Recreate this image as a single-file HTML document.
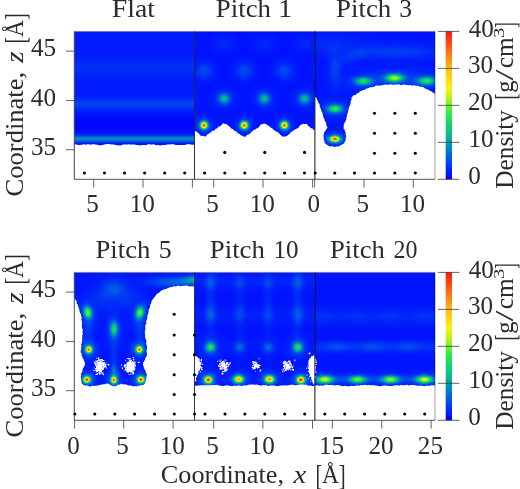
<!DOCTYPE html>
<html lang="en"><head><meta charset="utf-8"><title>Density maps</title>
<style>html,body{margin:0;padding:0;background:#fff}svg{display:block}</style></head>
<body>
<svg width="520" height="489" viewBox="0 0 520 489">
<rect width="520" height="489" fill="#fff"/>
<defs>
<filter id="cm" filterUnits="userSpaceOnUse" x="70" y="25" width="370" height="400" color-interpolation-filters="sRGB">
<feComponentTransfer>
<feFuncR type="table" tableValues="0.000 0.000 0.000 0.000 0.000 0.000 0.000 0.000 0.000 0.000 0.000 0.000 0.000 0.000 0.000 0.000 0.000 0.000 0.000 0.000 0.000 0.008 0.016 0.024 0.031 0.039 0.047 0.055 0.063 0.071 0.078 0.098 0.118 0.137 0.157 0.176 0.235 0.294 0.353 0.412 0.471 0.525 0.580 0.635 0.690 0.745 0.792 0.839 0.886 0.933 0.980 0.984 0.988 0.992 0.996 1.000 1.000 1.000 1.000 1.000 1.000 1.000 1.000 1.000 1.000 1.000 1.000 1.000 1.000 1.000 1.000 1.000 1.000 1.000 1.000 1.000 1.000 1.000 1.000 1.000 1.000"/>
<feFuncG type="table" tableValues="0.000 0.027 0.055 0.082 0.110 0.137 0.169 0.200 0.231 0.263 0.294 0.329 0.365 0.400 0.435 0.471 0.502 0.533 0.565 0.596 0.627 0.655 0.682 0.710 0.737 0.765 0.780 0.796 0.812 0.827 0.843 0.856 0.870 0.883 0.896 0.910 0.916 0.922 0.929 0.935 0.941 0.945 0.949 0.953 0.957 0.961 0.957 0.953 0.949 0.945 0.941 0.922 0.902 0.882 0.863 0.843 0.820 0.796 0.773 0.749 0.725 0.694 0.663 0.631 0.600 0.569 0.533 0.498 0.463 0.427 0.392 0.361 0.329 0.298 0.267 0.235 0.204 0.173 0.141 0.110 0.078"/>
<feFuncB type="table" tableValues="1.000 0.998 0.995 0.993 0.991 0.988 0.977 0.966 0.955 0.944 0.933 0.910 0.886 0.863 0.839 0.816 0.784 0.753 0.722 0.690 0.659 0.633 0.607 0.581 0.555 0.529 0.506 0.482 0.459 0.435 0.412 0.388 0.365 0.341 0.318 0.294 0.267 0.239 0.212 0.184 0.157 0.145 0.133 0.122 0.110 0.098 0.094 0.090 0.086 0.082 0.078 0.078 0.078 0.078 0.078 0.078 0.078 0.078 0.078 0.078 0.078 0.078 0.078 0.078 0.078 0.078 0.078 0.078 0.078 0.078 0.078 0.078 0.078 0.078 0.078 0.078 0.078 0.078 0.078 0.078 0.078"/>
</feComponentTransfer></filter>
<radialGradient id="g"><stop offset="0" stop-color="#fff" stop-opacity="1.000"/><stop offset="0.08" stop-color="#fff" stop-opacity="0.969"/><stop offset="0.17" stop-color="#fff" stop-opacity="0.882"/><stop offset="0.25" stop-color="#fff" stop-opacity="0.755"/><stop offset="0.33" stop-color="#fff" stop-opacity="0.607"/><stop offset="0.42" stop-color="#fff" stop-opacity="0.458"/><stop offset="0.5" stop-color="#fff" stop-opacity="0.325"/><stop offset="0.58" stop-color="#fff" stop-opacity="0.216"/><stop offset="0.67" stop-color="#fff" stop-opacity="0.135"/><stop offset="0.75" stop-color="#fff" stop-opacity="0.080"/><stop offset="0.83" stop-color="#fff" stop-opacity="0.044"/><stop offset="0.92" stop-color="#fff" stop-opacity="0.023"/><stop offset="1" stop-color="#fff" stop-opacity="0.000"/></radialGradient>
<linearGradient id="lv" x1="0" y1="0" x2="0" y2="1"><stop offset="0" stop-color="#fff" stop-opacity="0.000"/><stop offset="0.04" stop-color="#fff" stop-opacity="0.023"/><stop offset="0.08" stop-color="#fff" stop-opacity="0.044"/><stop offset="0.12" stop-color="#fff" stop-opacity="0.080"/><stop offset="0.17" stop-color="#fff" stop-opacity="0.135"/><stop offset="0.21" stop-color="#fff" stop-opacity="0.216"/><stop offset="0.25" stop-color="#fff" stop-opacity="0.325"/><stop offset="0.29" stop-color="#fff" stop-opacity="0.458"/><stop offset="0.33" stop-color="#fff" stop-opacity="0.607"/><stop offset="0.38" stop-color="#fff" stop-opacity="0.755"/><stop offset="0.42" stop-color="#fff" stop-opacity="0.882"/><stop offset="0.46" stop-color="#fff" stop-opacity="0.969"/><stop offset="0.5" stop-color="#fff" stop-opacity="1.000"/><stop offset="0.54" stop-color="#fff" stop-opacity="0.969"/><stop offset="0.58" stop-color="#fff" stop-opacity="0.882"/><stop offset="0.62" stop-color="#fff" stop-opacity="0.755"/><stop offset="0.67" stop-color="#fff" stop-opacity="0.607"/><stop offset="0.71" stop-color="#fff" stop-opacity="0.458"/><stop offset="0.75" stop-color="#fff" stop-opacity="0.325"/><stop offset="0.79" stop-color="#fff" stop-opacity="0.216"/><stop offset="0.83" stop-color="#fff" stop-opacity="0.135"/><stop offset="0.88" stop-color="#fff" stop-opacity="0.080"/><stop offset="0.92" stop-color="#fff" stop-opacity="0.044"/><stop offset="0.96" stop-color="#fff" stop-opacity="0.023"/><stop offset="1" stop-color="#fff" stop-opacity="0.000"/></linearGradient>
<linearGradient id="lh" x1="0" y1="0" x2="1" y2="0"><stop offset="0" stop-color="#fff" stop-opacity="0.000"/><stop offset="0.04" stop-color="#fff" stop-opacity="0.023"/><stop offset="0.08" stop-color="#fff" stop-opacity="0.044"/><stop offset="0.12" stop-color="#fff" stop-opacity="0.080"/><stop offset="0.17" stop-color="#fff" stop-opacity="0.135"/><stop offset="0.21" stop-color="#fff" stop-opacity="0.216"/><stop offset="0.25" stop-color="#fff" stop-opacity="0.325"/><stop offset="0.29" stop-color="#fff" stop-opacity="0.458"/><stop offset="0.33" stop-color="#fff" stop-opacity="0.607"/><stop offset="0.38" stop-color="#fff" stop-opacity="0.755"/><stop offset="0.42" stop-color="#fff" stop-opacity="0.882"/><stop offset="0.46" stop-color="#fff" stop-opacity="0.969"/><stop offset="0.5" stop-color="#fff" stop-opacity="1.000"/><stop offset="0.54" stop-color="#fff" stop-opacity="0.969"/><stop offset="0.58" stop-color="#fff" stop-opacity="0.882"/><stop offset="0.62" stop-color="#fff" stop-opacity="0.755"/><stop offset="0.67" stop-color="#fff" stop-opacity="0.607"/><stop offset="0.71" stop-color="#fff" stop-opacity="0.458"/><stop offset="0.75" stop-color="#fff" stop-opacity="0.325"/><stop offset="0.79" stop-color="#fff" stop-opacity="0.216"/><stop offset="0.83" stop-color="#fff" stop-opacity="0.135"/><stop offset="0.88" stop-color="#fff" stop-opacity="0.080"/><stop offset="0.92" stop-color="#fff" stop-opacity="0.044"/><stop offset="0.96" stop-color="#fff" stop-opacity="0.023"/><stop offset="1" stop-color="#fff" stop-opacity="0.000"/></linearGradient>
<clipPath id="c10"><rect x="74.3" y="31.4" width="120.2" height="147.9"/></clipPath>
<clipPath id="c20"><rect x="74.3" y="272.4" width="120.2" height="147.9"/></clipPath>
<clipPath id="c11"><rect x="194.5" y="31.4" width="120.4" height="147.9"/></clipPath>
<clipPath id="c21"><rect x="194.5" y="272.4" width="120.4" height="147.9"/></clipPath>
<clipPath id="c12"><rect x="314.9" y="31.4" width="120.1" height="147.9"/></clipPath>
<clipPath id="c22"><rect x="314.9" y="272.4" width="120.1" height="147.9"/></clipPath>
</defs>
<g filter="url(#cm)">
<linearGradient id="p1" gradientUnits="userSpaceOnUse" x1="0" y1="31.4" x2="0" y2="179.3"><stop offset="0.0000" stop-color="#0d0d0d"/><stop offset="0.0102" stop-color="#0d0d0d"/><stop offset="0.0204" stop-color="#0d0d0d"/><stop offset="0.0306" stop-color="#0d0d0d"/><stop offset="0.0408" stop-color="#0d0d0d"/><stop offset="0.0510" stop-color="#0d0d0d"/><stop offset="0.0612" stop-color="#0d0d0d"/><stop offset="0.0714" stop-color="#0d0d0d"/><stop offset="0.0816" stop-color="#0d0d0d"/><stop offset="0.0918" stop-color="#0d0d0d"/><stop offset="0.1020" stop-color="#0d0d0d"/><stop offset="0.1122" stop-color="#0d0d0d"/><stop offset="0.1224" stop-color="#0d0d0d"/><stop offset="0.1327" stop-color="#0d0d0d"/><stop offset="0.1429" stop-color="#0d0d0d"/><stop offset="0.1531" stop-color="#0d0d0d"/><stop offset="0.1633" stop-color="#0e0e0e"/><stop offset="0.1735" stop-color="#0e0e0e"/><stop offset="0.1837" stop-color="#0f0f0f"/><stop offset="0.1939" stop-color="#101010"/><stop offset="0.2041" stop-color="#111111"/><stop offset="0.2143" stop-color="#131313"/><stop offset="0.2245" stop-color="#141414"/><stop offset="0.2347" stop-color="#151515"/><stop offset="0.2449" stop-color="#151515"/><stop offset="0.2551" stop-color="#151515"/><stop offset="0.2653" stop-color="#141414"/><stop offset="0.2755" stop-color="#131313"/><stop offset="0.2857" stop-color="#121212"/><stop offset="0.2959" stop-color="#111111"/><stop offset="0.3061" stop-color="#101010"/><stop offset="0.3163" stop-color="#0f0f0f"/><stop offset="0.3265" stop-color="#0e0e0e"/><stop offset="0.3367" stop-color="#0d0d0d"/><stop offset="0.3469" stop-color="#0d0d0d"/><stop offset="0.3571" stop-color="#0d0d0d"/><stop offset="0.3673" stop-color="#0d0d0d"/><stop offset="0.3776" stop-color="#0d0d0d"/><stop offset="0.3878" stop-color="#0d0d0d"/><stop offset="0.3980" stop-color="#0d0d0d"/><stop offset="0.4082" stop-color="#0d0d0d"/><stop offset="0.4184" stop-color="#0d0d0d"/><stop offset="0.4286" stop-color="#0e0e0e"/><stop offset="0.4388" stop-color="#0f0f0f"/><stop offset="0.4490" stop-color="#111111"/><stop offset="0.4592" stop-color="#141414"/><stop offset="0.4694" stop-color="#171717"/><stop offset="0.4796" stop-color="#1a1a1a"/><stop offset="0.4898" stop-color="#1c1c1c"/><stop offset="0.5000" stop-color="#1c1c1c"/><stop offset="0.5102" stop-color="#191919"/><stop offset="0.5204" stop-color="#151515"/><stop offset="0.5306" stop-color="#111111"/><stop offset="0.5408" stop-color="#0e0e0e"/><stop offset="0.5510" stop-color="#0b0b0b"/><stop offset="0.5612" stop-color="#090909"/><stop offset="0.5714" stop-color="#070707"/><stop offset="0.5816" stop-color="#060606"/><stop offset="0.5918" stop-color="#050505"/><stop offset="0.6020" stop-color="#040404"/><stop offset="0.6122" stop-color="#030303"/><stop offset="0.6224" stop-color="#030303"/><stop offset="0.6327" stop-color="#030303"/><stop offset="0.6429" stop-color="#040404"/><stop offset="0.6531" stop-color="#040404"/><stop offset="0.6633" stop-color="#050505"/><stop offset="0.6735" stop-color="#060606"/><stop offset="0.6837" stop-color="#080808"/><stop offset="0.6939" stop-color="#0c0c0c"/><stop offset="0.7041" stop-color="#181818"/><stop offset="0.7143" stop-color="#2c2c2c"/><stop offset="0.7245" stop-color="#3b3b3b"/><stop offset="0.7347" stop-color="#343434"/><stop offset="0.7449" stop-color="#202020"/><stop offset="0.7551" stop-color="#0e0e0e"/><stop offset="0.7653" stop-color="#080808"/><stop offset="0.7755" stop-color="#0c0c0c"/><stop offset="0.7857" stop-color="#0d0d0d"/><stop offset="0.7959" stop-color="#0d0d0d"/><stop offset="0.8061" stop-color="#0d0d0d"/><stop offset="0.8163" stop-color="#0d0d0d"/><stop offset="0.8265" stop-color="#0d0d0d"/><stop offset="0.8367" stop-color="#0d0d0d"/><stop offset="0.8469" stop-color="#0d0d0d"/><stop offset="0.8571" stop-color="#0d0d0d"/><stop offset="0.8673" stop-color="#0d0d0d"/><stop offset="0.8776" stop-color="#0d0d0d"/><stop offset="0.8878" stop-color="#0d0d0d"/><stop offset="0.8980" stop-color="#0d0d0d"/><stop offset="0.9082" stop-color="#0d0d0d"/><stop offset="0.9184" stop-color="#0d0d0d"/><stop offset="0.9286" stop-color="#0d0d0d"/><stop offset="0.9388" stop-color="#0d0d0d"/><stop offset="0.9490" stop-color="#0d0d0d"/><stop offset="0.9592" stop-color="#0d0d0d"/><stop offset="0.9694" stop-color="#0d0d0d"/><stop offset="0.9796" stop-color="#0d0d0d"/><stop offset="0.9898" stop-color="#0d0d0d"/><stop offset="1.0000" stop-color="#0d0d0d"/></linearGradient>
<g clip-path="url(#c10)">
<rect x="74.3" y="31.4" width="120.2" height="147.9" fill="url(#p1)"/>
</g>
<g clip-path="url(#c11)">
<rect x="194.5" y="31.4" width="120.4" height="147.9" fill="#080808"/>
<ellipse cx="183.9" cy="44" rx="24" ry="18" fill="url(#g)" fill-opacity="0.041"/>
<ellipse cx="163.8" cy="71" rx="19.5" ry="18" fill="url(#g)" fill-opacity="0.093"/>
<ellipse cx="183.9" cy="98.6" rx="24.42" ry="22.44" fill="url(#g)" fill-opacity="0.053"/><ellipse cx="183.9" cy="98.6" rx="11.1" ry="10.2" fill="url(#g)" fill-opacity="0.240"/>
<ellipse cx="163.8" cy="125.3" rx="16.56" ry="16.56" fill="url(#g)" fill-opacity="0.109"/><ellipse cx="163.8" cy="125.3" rx="6.9" ry="6.9" fill="url(#g)" fill-opacity="0.910"/>
<ellipse cx="224.1" cy="44" rx="24" ry="18" fill="url(#g)" fill-opacity="0.041"/>
<ellipse cx="204" cy="71" rx="19.5" ry="18" fill="url(#g)" fill-opacity="0.093"/>
<ellipse cx="224.1" cy="98.6" rx="24.42" ry="22.44" fill="url(#g)" fill-opacity="0.053"/><ellipse cx="224.1" cy="98.6" rx="11.1" ry="10.2" fill="url(#g)" fill-opacity="0.240"/>
<ellipse cx="204" cy="125.3" rx="16.56" ry="16.56" fill="url(#g)" fill-opacity="0.109"/><ellipse cx="204" cy="125.3" rx="6.9" ry="6.9" fill="url(#g)" fill-opacity="0.910"/>
<ellipse cx="264.3" cy="44" rx="24" ry="18" fill="url(#g)" fill-opacity="0.041"/>
<ellipse cx="244.2" cy="71" rx="19.5" ry="18" fill="url(#g)" fill-opacity="0.093"/>
<ellipse cx="264.3" cy="98.6" rx="24.42" ry="22.44" fill="url(#g)" fill-opacity="0.053"/><ellipse cx="264.3" cy="98.6" rx="11.1" ry="10.2" fill="url(#g)" fill-opacity="0.240"/>
<ellipse cx="244.2" cy="125.3" rx="16.56" ry="16.56" fill="url(#g)" fill-opacity="0.109"/><ellipse cx="244.2" cy="125.3" rx="6.9" ry="6.9" fill="url(#g)" fill-opacity="0.910"/>
<ellipse cx="304.5" cy="44" rx="24" ry="18" fill="url(#g)" fill-opacity="0.041"/>
<ellipse cx="284.4" cy="71" rx="19.5" ry="18" fill="url(#g)" fill-opacity="0.093"/>
<ellipse cx="304.5" cy="98.6" rx="24.42" ry="22.44" fill="url(#g)" fill-opacity="0.053"/><ellipse cx="304.5" cy="98.6" rx="11.1" ry="10.2" fill="url(#g)" fill-opacity="0.240"/>
<ellipse cx="284.4" cy="125.3" rx="16.56" ry="16.56" fill="url(#g)" fill-opacity="0.109"/><ellipse cx="284.4" cy="125.3" rx="6.9" ry="6.9" fill="url(#g)" fill-opacity="0.910"/>
<ellipse cx="344.7" cy="44" rx="24" ry="18" fill="url(#g)" fill-opacity="0.041"/>
<ellipse cx="324.6" cy="71" rx="19.5" ry="18" fill="url(#g)" fill-opacity="0.093"/>
<ellipse cx="344.7" cy="98.6" rx="24.42" ry="22.44" fill="url(#g)" fill-opacity="0.053"/><ellipse cx="344.7" cy="98.6" rx="11.1" ry="10.2" fill="url(#g)" fill-opacity="0.240"/>
<ellipse cx="324.6" cy="125.3" rx="16.56" ry="16.56" fill="url(#g)" fill-opacity="0.109"/><ellipse cx="324.6" cy="125.3" rx="6.9" ry="6.9" fill="url(#g)" fill-opacity="0.910"/>
</g>
<g clip-path="url(#c12)">
<rect x="314.9" y="31.4" width="120.1" height="147.9" fill="#0a0a0a"/>
<ellipse cx="396" cy="52" rx="90" ry="15" fill="url(#g)" fill-opacity="0.070"/>
<ellipse cx="330" cy="44" rx="66" ry="21" fill="url(#g)" fill-opacity="0.039"/>
<ellipse cx="334.9" cy="70" rx="12.6" ry="36" fill="url(#g)" fill-opacity="0.075"/>
<ellipse transform="rotate(-24 353 57)" cx="353" cy="57" rx="33" ry="12" fill="url(#g)" fill-opacity="0.047"/>
<ellipse cx="363.3" cy="81.2" rx="37.44" ry="18" fill="url(#g)" fill-opacity="0.074"/><ellipse cx="363.3" cy="81.2" rx="15.6" ry="7.5" fill="url(#g)" fill-opacity="0.338"/>
<ellipse cx="394.6" cy="78" rx="38.88" ry="17.28" fill="url(#g)" fill-opacity="0.101"/><ellipse cx="394.6" cy="78" rx="16.2" ry="7.2" fill="url(#g)" fill-opacity="0.506"/>
<ellipse cx="426.6" cy="80.8" rx="38.88" ry="18" fill="url(#g)" fill-opacity="0.077"/><ellipse cx="426.6" cy="80.8" rx="16.2" ry="7.5" fill="url(#g)" fill-opacity="0.351"/>
<ellipse cx="334.9" cy="108.8" rx="31.74" ry="17.25" fill="url(#g)" fill-opacity="0.083"/><ellipse cx="334.9" cy="108.8" rx="13.8" ry="7.5" fill="url(#g)" fill-opacity="0.377"/>
<ellipse cx="334.9" cy="139" rx="21.39" ry="12.42" fill="url(#g)" fill-opacity="0.152"/><ellipse cx="334.9" cy="139" rx="9.3" ry="5.4" fill="url(#g)" fill-opacity="0.948"/>
</g>
<g clip-path="url(#c20)">
<rect x="74.3" y="272.4" width="120.2" height="147.9" fill="#0a0a0a"/>
<ellipse cx="114" cy="289.6" rx="27" ry="21" fill="url(#g)" fill-opacity="0.117"/>
<ellipse cx="172" cy="282" rx="48" ry="10.5" fill="url(#g)" fill-opacity="0.130"/>
<ellipse cx="197" cy="279.8" rx="27" ry="9" fill="url(#g)" fill-opacity="0.234"/>
<ellipse transform="rotate(40 101 300)" cx="101" cy="300" rx="30" ry="15" fill="url(#g)" fill-opacity="0.044"/>
<ellipse transform="rotate(-40 127 300)" cx="127" cy="300" rx="30" ry="15" fill="url(#g)" fill-opacity="0.044"/>
<ellipse cx="88.2" cy="330" rx="10.5" ry="36" fill="url(#g)" fill-opacity="0.055"/>
<ellipse cx="140" cy="330" rx="10.5" ry="36" fill="url(#g)" fill-opacity="0.055"/>
<ellipse cx="114" cy="352" rx="9" ry="48" fill="url(#g)" fill-opacity="0.047"/>
<ellipse transform="rotate(-14 87.9 312.5)" cx="87.9" cy="312.5" rx="17.28" ry="25.92" fill="url(#g)" fill-opacity="0.094"/><ellipse transform="rotate(-14 87.9 312.5)" cx="87.9" cy="312.5" rx="7.2" ry="10.8" fill="url(#g)" fill-opacity="0.429"/>
<ellipse transform="rotate(14 139.9 312.5)" cx="139.9" cy="312.5" rx="17.28" ry="25.92" fill="url(#g)" fill-opacity="0.094"/><ellipse transform="rotate(14 139.9 312.5)" cx="139.9" cy="312.5" rx="7.2" ry="10.8" fill="url(#g)" fill-opacity="0.429"/>
<ellipse cx="114" cy="328.9" rx="16.5" ry="31.68" fill="url(#g)" fill-opacity="0.062"/><ellipse cx="114" cy="328.9" rx="7.5" ry="14.4" fill="url(#g)" fill-opacity="0.312"/>
<ellipse cx="88.8" cy="349.5" rx="15.6" ry="16.38" fill="url(#g)" fill-opacity="0.143"/><ellipse cx="88.8" cy="349.5" rx="6" ry="6.3" fill="url(#g)" fill-opacity="0.896"/>
<ellipse cx="139.3" cy="349.5" rx="15.6" ry="16.38" fill="url(#g)" fill-opacity="0.143"/><ellipse cx="139.3" cy="349.5" rx="6" ry="6.3" fill="url(#g)" fill-opacity="0.896"/>
<ellipse cx="114" cy="371" rx="5.4" ry="15" fill="url(#g)" fill-opacity="0.130"/>
<ellipse cx="86.9" cy="379.6" rx="16.38" ry="14.82" fill="url(#g)" fill-opacity="0.160"/><ellipse cx="86.9" cy="379.6" rx="6.3" ry="5.7" fill="url(#g)" fill-opacity="1.000"/>
<ellipse cx="113.9" cy="379.9" rx="14.04" ry="16.38" fill="url(#g)" fill-opacity="0.148"/><ellipse cx="113.9" cy="379.9" rx="5.4" ry="6.3" fill="url(#g)" fill-opacity="0.922"/>
<ellipse cx="140.9" cy="379.6" rx="16.38" ry="14.82" fill="url(#g)" fill-opacity="0.160"/><ellipse cx="140.9" cy="379.6" rx="6.3" ry="5.7" fill="url(#g)" fill-opacity="1.000"/>
</g>
<g clip-path="url(#c21)">
<rect x="194.5" y="272.4" width="120.4" height="147.9" fill="#090909"/>
<ellipse cx="254.6" cy="282" rx="240" ry="15" fill="url(#g)" fill-opacity="0.031"/>
<ellipse cx="254.6" cy="315" rx="240" ry="18" fill="url(#g)" fill-opacity="0.023"/>
<ellipse cx="210.5" cy="300" rx="9" ry="90" fill="url(#g)" fill-opacity="0.049"/>
<ellipse cx="210.5" cy="282.5" rx="11.4" ry="13.5" fill="url(#g)" fill-opacity="0.067"/>
<ellipse cx="210.5" cy="314.5" rx="11.4" ry="16.5" fill="url(#g)" fill-opacity="0.073"/>
<ellipse cx="210.5" cy="347.2" rx="21.39" ry="21.39" fill="url(#g)" fill-opacity="0.075"/><ellipse cx="210.5" cy="347.2" rx="9.3" ry="9.3" fill="url(#g)" fill-opacity="0.339"/>
<ellipse cx="297.8" cy="300" rx="9" ry="90" fill="url(#g)" fill-opacity="0.049"/>
<ellipse cx="297.8" cy="282.5" rx="11.4" ry="13.5" fill="url(#g)" fill-opacity="0.067"/>
<ellipse cx="297.8" cy="314.5" rx="11.4" ry="16.5" fill="url(#g)" fill-opacity="0.073"/>
<ellipse cx="297.8" cy="347.2" rx="21.39" ry="21.39" fill="url(#g)" fill-opacity="0.075"/><ellipse cx="297.8" cy="347.2" rx="9.3" ry="9.3" fill="url(#g)" fill-opacity="0.339"/>
<ellipse cx="239.8" cy="305" rx="9" ry="84" fill="url(#g)" fill-opacity="0.034"/>
<ellipse cx="239.8" cy="282.5" rx="11.4" ry="13.5" fill="url(#g)" fill-opacity="0.041"/>
<ellipse cx="239.8" cy="314.5" rx="11.4" ry="16.5" fill="url(#g)" fill-opacity="0.041"/>
<ellipse cx="239.8" cy="347.2" rx="23.76" ry="21.12" fill="url(#g)" fill-opacity="0.024"/><ellipse cx="239.8" cy="347.2" rx="10.8" ry="9.6" fill="url(#g)" fill-opacity="0.119"/>
<ellipse cx="268.2" cy="305" rx="9" ry="84" fill="url(#g)" fill-opacity="0.034"/>
<ellipse cx="268.2" cy="282.5" rx="11.4" ry="13.5" fill="url(#g)" fill-opacity="0.041"/>
<ellipse cx="268.2" cy="314.5" rx="11.4" ry="16.5" fill="url(#g)" fill-opacity="0.041"/>
<ellipse cx="268.2" cy="347.2" rx="23.76" ry="21.12" fill="url(#g)" fill-opacity="0.024"/><ellipse cx="268.2" cy="347.2" rx="10.8" ry="9.6" fill="url(#g)" fill-opacity="0.119"/>
<ellipse cx="208.3" cy="379.8" rx="18" ry="15.75" fill="url(#g)" fill-opacity="0.160"/><ellipse cx="208.3" cy="379.8" rx="7.2" ry="6.3" fill="url(#g)" fill-opacity="1.000"/>
<ellipse cx="238.7" cy="379.2" rx="20.88" ry="15.84" fill="url(#g)" fill-opacity="0.127"/><ellipse cx="238.7" cy="379.2" rx="8.7" ry="6.6" fill="url(#g)" fill-opacity="0.793"/>
<ellipse cx="269.5" cy="379.2" rx="20.88" ry="15.84" fill="url(#g)" fill-opacity="0.131"/><ellipse cx="269.5" cy="379.2" rx="8.7" ry="6.6" fill="url(#g)" fill-opacity="0.819"/>
<ellipse cx="300.8" cy="379.8" rx="18" ry="15.75" fill="url(#g)" fill-opacity="0.160"/><ellipse cx="300.8" cy="379.8" rx="7.2" ry="6.3" fill="url(#g)" fill-opacity="1.000"/>
</g>
<linearGradient id="p6" gradientUnits="userSpaceOnUse" x1="0" y1="272.4" x2="0" y2="420.3"><stop offset="0.0000" stop-color="#090909"/><stop offset="0.0102" stop-color="#090909"/><stop offset="0.0204" stop-color="#090909"/><stop offset="0.0306" stop-color="#090909"/><stop offset="0.0408" stop-color="#090909"/><stop offset="0.0510" stop-color="#090909"/><stop offset="0.0612" stop-color="#090909"/><stop offset="0.0714" stop-color="#090909"/><stop offset="0.0816" stop-color="#090909"/><stop offset="0.0918" stop-color="#090909"/><stop offset="0.1020" stop-color="#090909"/><stop offset="0.1122" stop-color="#090909"/><stop offset="0.1224" stop-color="#090909"/><stop offset="0.1327" stop-color="#090909"/><stop offset="0.1429" stop-color="#090909"/><stop offset="0.1531" stop-color="#090909"/><stop offset="0.1633" stop-color="#090909"/><stop offset="0.1735" stop-color="#090909"/><stop offset="0.1837" stop-color="#090909"/><stop offset="0.1939" stop-color="#090909"/><stop offset="0.2041" stop-color="#0a0a0a"/><stop offset="0.2143" stop-color="#0a0a0a"/><stop offset="0.2245" stop-color="#0b0b0b"/><stop offset="0.2347" stop-color="#0b0b0b"/><stop offset="0.2449" stop-color="#0d0d0d"/><stop offset="0.2551" stop-color="#0e0e0e"/><stop offset="0.2653" stop-color="#0f0f0f"/><stop offset="0.2755" stop-color="#101010"/><stop offset="0.2857" stop-color="#111111"/><stop offset="0.2959" stop-color="#111111"/><stop offset="0.3061" stop-color="#111111"/><stop offset="0.3163" stop-color="#101010"/><stop offset="0.3265" stop-color="#0f0f0f"/><stop offset="0.3367" stop-color="#0e0e0e"/><stop offset="0.3469" stop-color="#0d0d0d"/><stop offset="0.3571" stop-color="#0c0c0c"/><stop offset="0.3673" stop-color="#0b0b0b"/><stop offset="0.3776" stop-color="#0a0a0a"/><stop offset="0.3878" stop-color="#0a0a0a"/><stop offset="0.3980" stop-color="#090909"/><stop offset="0.4082" stop-color="#090909"/><stop offset="0.4184" stop-color="#090909"/><stop offset="0.4286" stop-color="#090909"/><stop offset="0.4388" stop-color="#090909"/><stop offset="0.4490" stop-color="#0a0a0a"/><stop offset="0.4592" stop-color="#0c0c0c"/><stop offset="0.4694" stop-color="#0e0e0e"/><stop offset="0.4796" stop-color="#111111"/><stop offset="0.4898" stop-color="#141414"/><stop offset="0.5000" stop-color="#151515"/><stop offset="0.5102" stop-color="#151515"/><stop offset="0.5204" stop-color="#131313"/><stop offset="0.5306" stop-color="#101010"/><stop offset="0.5408" stop-color="#0d0d0d"/><stop offset="0.5510" stop-color="#0b0b0b"/><stop offset="0.5612" stop-color="#0a0a0a"/><stop offset="0.5714" stop-color="#090909"/><stop offset="0.5816" stop-color="#090909"/><stop offset="0.5918" stop-color="#090909"/><stop offset="0.6020" stop-color="#090909"/><stop offset="0.6122" stop-color="#090909"/><stop offset="0.6224" stop-color="#090909"/><stop offset="0.6327" stop-color="#090909"/><stop offset="0.6429" stop-color="#090909"/><stop offset="0.6531" stop-color="#090909"/><stop offset="0.6633" stop-color="#090909"/><stop offset="0.6735" stop-color="#090909"/><stop offset="0.6837" stop-color="#0a0a0a"/><stop offset="0.6939" stop-color="#0c0c0c"/><stop offset="0.7041" stop-color="#111111"/><stop offset="0.7143" stop-color="#171717"/><stop offset="0.7245" stop-color="#191919"/><stop offset="0.7347" stop-color="#161616"/><stop offset="0.7449" stop-color="#101010"/><stop offset="0.7551" stop-color="#0c0c0c"/><stop offset="0.7653" stop-color="#0a0a0a"/><stop offset="0.7755" stop-color="#090909"/><stop offset="0.7857" stop-color="#090909"/><stop offset="0.7959" stop-color="#090909"/><stop offset="0.8061" stop-color="#090909"/><stop offset="0.8163" stop-color="#090909"/><stop offset="0.8265" stop-color="#090909"/><stop offset="0.8367" stop-color="#090909"/><stop offset="0.8469" stop-color="#090909"/><stop offset="0.8571" stop-color="#090909"/><stop offset="0.8673" stop-color="#090909"/><stop offset="0.8776" stop-color="#090909"/><stop offset="0.8878" stop-color="#090909"/><stop offset="0.8980" stop-color="#090909"/><stop offset="0.9082" stop-color="#090909"/><stop offset="0.9184" stop-color="#090909"/><stop offset="0.9286" stop-color="#090909"/><stop offset="0.9388" stop-color="#090909"/><stop offset="0.9490" stop-color="#090909"/><stop offset="0.9592" stop-color="#090909"/><stop offset="0.9694" stop-color="#090909"/><stop offset="0.9796" stop-color="#090909"/><stop offset="0.9898" stop-color="#090909"/><stop offset="1.0000" stop-color="#090909"/></linearGradient>
<g clip-path="url(#c22)">
<rect x="314.9" y="272.4" width="120.1" height="147.9" fill="url(#p6)"/>
<ellipse cx="338" cy="346.8" rx="24" ry="9.6" fill="url(#g)" fill-opacity="0.054"/>
<ellipse cx="372.7" cy="346.8" rx="24" ry="9.6" fill="url(#g)" fill-opacity="0.054"/>
<ellipse cx="408" cy="346.8" rx="24" ry="9.6" fill="url(#g)" fill-opacity="0.054"/>
<ellipse cx="324.6" cy="316.4" rx="21" ry="13.5" fill="url(#g)" fill-opacity="0.019"/>
<ellipse cx="357.4" cy="316.4" rx="21" ry="13.5" fill="url(#g)" fill-opacity="0.019"/>
<ellipse cx="390.3" cy="316.4" rx="21" ry="13.5" fill="url(#g)" fill-opacity="0.019"/>
<ellipse cx="424.3" cy="316.4" rx="21" ry="13.5" fill="url(#g)" fill-opacity="0.019"/>
<ellipse cx="324.8" cy="379.5" rx="28.2" ry="13.2" fill="url(#g)" fill-opacity="0.106"/><ellipse cx="324.8" cy="379.5" rx="14.1" ry="6.6" fill="url(#g)" fill-opacity="0.528"/>
<ellipse cx="357.6" cy="379.5" rx="28.2" ry="13.2" fill="url(#g)" fill-opacity="0.083"/><ellipse cx="357.6" cy="379.5" rx="14.1" ry="6.6" fill="url(#g)" fill-opacity="0.417"/>
<ellipse cx="390.5" cy="379.5" rx="28.2" ry="13.2" fill="url(#g)" fill-opacity="0.092"/><ellipse cx="390.5" cy="379.5" rx="14.1" ry="6.6" fill="url(#g)" fill-opacity="0.458"/>
<ellipse cx="424.6" cy="379.5" rx="28.2" ry="13.2" fill="url(#g)" fill-opacity="0.106"/><ellipse cx="424.6" cy="379.5" rx="14.1" ry="6.6" fill="url(#g)" fill-opacity="0.528"/>
</g>
</g>
<g clip-path="url(#c10)"><path fill="#fff" d="M74.14 144.29L76.44 144.61L78.33 145.02L79.9 145.12L81.88 144.87L83.91 144.3L86.23 144.7L87.96 144.01L90.41 144.69L92.37 144.37L94.73 144.32L96.62 144.8L97.98 144.79L100.13 145.4L102.01 145.02L104.43 144.56L106.34 144.03L107.9 144L110.46 144.21L112.13 144.53L114.26 144.53L116.56 145.15L118.07 145.2L120.32 145.46L122.51 144.77L124.73 144.35L126.23 144.66L127.99 144.26L129.89 144.42L132.54 144.5L134.64 144.53L136.48 145.05L138.37 145.09L140.61 145.53L142.28 145.12L143.9 144.89L146.43 144.89L148.59 144.08L150.2 144.42L151.87 144.39L154 144.34L155.9 145.19L157.97 144.9L160.2 145.47L161.92 144.93L164.34 145.07L166.59 144.78L168.1 144.2L170.17 144.61L172.71 144.1L174.01 144.43L176.06 144.93L178.38 144.9L179.85 145.06L182.18 145.05L184.71 144.91L186.31 144.57L188.46 143.88L190.66 144.51L192.64 144.67L194.5 144.4L194.5 179.3L74.3 179.3Z"/></g>
<g clip-path="url(#c11)"><path fill="#fff" d="M194.39 130.3L195.1 131.2L196.06 131.35L197.21 132.22L198.34 132.93L199 133.87L200.1 134.88L201.03 136.07L202.61 135.85L203.25 136.31L204.36 136.09L205.85 136.69L206.47 135.68L207.09 134.62L208.34 133.99L209.83 133.04L210.02 133.01L211.53 131.43L212.54 130.59L213.53 130.88L214.86 129.96L215.26 128.97L216.17 128.67L217.53 127.9L218.33 126.53L219.81 126.45L220.85 125.47L221.82 124.7L222.23 123.96L223.36 123.18L224.03 123.4L225.26 124.05L226.96 124.29L227.94 125.5L228.96 125.66L229.22 126.36L230.2 127.17L231.62 128.65L232.84 128.94L233.65 129.93L234.08 130.44L235.91 131.21L236.75 131.61L237.18 132.68L238.33 133.51L239.97 133.95L240.4 135.31L241.72 135.25L242.13 135.77L243.9 136.74L244.15 136.81L245.98 136.43L246.35 135.86L247.13 134.68L248.97 134.54L249.53 133.98L250.43 133.09L251.83 131.64L252.25 131L253.24 130.62L254.26 129.81L255.13 129.65L256.35 128.5L257.58 128.19L258.42 127.39L259.5 126.16L260.52 124.83L261.44 124.27L262 124.33L263.17 123.66L264.73 123.66L265.33 123.81L266.56 124.51L267.11 124.92L268.25 125.41L269.77 126.47L270.56 127.56L271.91 128.04L272.61 128.83L273.51 129.69L274.45 130.18L275.48 131.24L276.7 131.86L277.94 132L278.56 133.49L279.84 133.52L280.12 134.65L281.07 135.18L282.07 136.2L283.78 136.79L284.15 136.71L285.66 135.98L286.88 136.39L287.22 135.76L288.4 134.54L289.99 134.05L290.16 132.81L291.52 131.92L292.2 131.16L293.72 130.18L294.55 129.96L295.02 129.2L296.62 128.7L297.06 128.43L298.79 127.61L299.1 126.06L300.04 125.75L301.27 124.35L302.42 124.54L303.82 123.49L304.15 124.02L305.57 123.94L306.09 123.68L307.69 124.65L308.07 125.91L309.63 126.6L310.08 127.49L311.07 128.3L312.45 128.52L313.55 129.8L314.27 129.65L315.5 130.66L315.9 179.3L194.5 179.3Z"/></g>
<g clip-path="url(#c12)"><path fill="#fff" d="M313.92 96.06L313.87 96.14L314.26 96.32L315.02 96.68L316.02 97.16L316.4 97.91L316.93 99.08L317.59 100.78L318.41 102.23L318.31 103.12L319.37 103.78L319.65 105.06L319.73 106.36L320 107.01L320.96 109.23L321.33 110.91L322.32 112.54L322.69 114.06L323 115.57L323.63 117.79L324.42 118.92L324.86 121.12L326.1 122.44L326 123.37L326.38 124.66L326.58 125.55L326.92 126.82L327.67 127.22L326.97 128.42L326.75 128.71L325.98 129.55L325.82 130.49L324.99 131.36L324.35 132.09L324.06 133.27L323.65 134.08L323.59 135.46L323.64 136.91L323.73 138.14L323.77 139.42L323.65 139.99L324.49 140.87L324.66 142.27L324.59 143.3L326.05 143.86L326.77 144.7L327.2 145.02L328.52 145.8L329.77 146.19L330.55 146.56L331.63 146.57L332.24 146.1L333.17 146.45L334.14 146.9L335.55 146.71L336.6 146.72L337.47 146.01L338.72 146.5L339.4 146.03L340.49 145.25L341.52 144.97L341.85 144.46L343.28 143.77L344.02 143.73L344.4 142.3L344.91 141.54L345.6 140.36L345.81 138.73L345.58 137.78L346.21 136.72L346.01 135.33L345.42 134.43L345.78 133.71L345.56 132.31L345.1 131.5L344.62 130.28L344.55 129.47L344.24 129.27L343.17 127.96L343.85 127.59L343.6 126.18L343.56 125.99L343.82 124.76L344.08 123.62L345.23 121.96L345.65 120.82L346.31 119.41L346.31 117.93L347.09 115.47L347.14 114.19L348.01 112.24L348.18 110.47L348.79 109.1L348.95 107.23L350.15 104.79L350.46 104.35L350.66 102.99L350.62 101.17L351.62 99.64L351.47 98.14L351.79 96.87L351.99 96.99L352.52 96.69L352.89 95.77L353.61 95.32L354.04 95.59L355.09 95.1L355.53 94.83L356.55 94.11L357.2 93.19L358.16 92.99L359.22 92.53L359.94 91.32L361.75 90.71L362.67 90.26L363.95 89.99L366.09 88.93L367.43 88.35L369.09 87.85L370.6 87.1L371.63 87.51L372.89 86.63L374.31 87.08L374.95 86.06L375.83 85.79L377.07 85.56L378.15 85.51L379.61 85.87L381 85.28L381.92 85.22L383.2 84.94L384.22 84.76L386.42 84.54L387.39 84.91L389.15 84.49L390.05 84.46L391.62 84.61L393.56 84.94L394.91 84.18L395.58 84.79L397.79 84.57L398.94 84.15L400.23 85L402.09 84.95L403.67 84.44L404.34 84.39L406.09 84.93L407.85 85.03L408.86 85.15L409.96 85.05L410.73 85.36L412.05 85.6L413.47 85.17L414.05 85.25L416.46 85.97L417.84 85.77L420.02 86.67L421.63 86.87L423.43 87.26L424.72 88.31L426.85 89.18L428.35 89.78L429.49 90.46L431.07 91.39L431.41 91.29L432.48 92.4L433.3 92.54L435.06 94.05L436 94.3L436 180.3L313.9 180.3Z"/></g>
<g clip-path="url(#c20)"><path fill="#fff" d="M73.05 296.58L73.53 297.45L74.36 297.97L75.08 299.32L75.44 299.77L76.42 300.83L76.78 301.7L76.72 303.14L77.26 304.36L77.91 304.85L78.15 306.43L79.08 308.51L79.18 309.83L79.52 311.32L79.74 311.46L79.92 312.76L80.93 314.19L81.21 316.25L81.71 317.57L81.29 320.08L82 321.23L82.09 323.52L81.99 325.45L81.96 327.14L82.14 328.46L82.83 329.26L82.89 330.33L82.41 331.88L82.9 333.48L82.19 335.38L82.38 337.56L82.01 338.81L82.4 340.18L81.72 342.45L81.84 343.19L81.02 344.47L81.66 345.76L81.37 347.36L80.9 347.79L81.41 349.11L80.78 350.22L80.86 350.82L80.64 352.23L81.59 353.11L81.8 353.57L81.43 355L82.43 356.46L82.31 356.87L82.75 358.14L83.59 358.91L83.91 360.46L84.44 361.52L84.72 362.17L84.78 363.3L85.25 364.22L84.4 366.12L83.83 366.89L82.87 368.77L82.4 370.57L82.35 371.94L81.42 372.44L80.98 374.11L81.32 375.32L80.74 376.5L81.01 377.86L81.1 379.06L81.06 379.4L81.33 380.47L81.27 381.4L81.71 382.03L81.61 382.79L81.91 384.02L82.79 384.11L83.3 385.22L84.31 384.96L85.75 385.68L87.32 385.46L88.44 386.3L90.49 386.48L91.59 385.91L92.68 385.74L94.48 386.02L95.6 385.68L96.7 385.59L97.33 385.7L99.14 384.91L99.93 385.19L100.69 384.78L102.48 384.33L103.97 384.43L105.41 383.8L105.73 383.69L107.19 383.45L107.83 383.53L109.34 384.22L109.75 384.47L111.14 385.59L112.48 385.76L113.2 386.58L114.64 386.04L115.83 386.17L117.13 385.21L118.42 384.5L120.03 384.65L120.53 383.76L121.64 383.69L121.76 384.33L123.04 384.34L124.22 384.54L125.81 384.19L127.21 384.97L128.74 385.53L129.22 385.51L130.47 385.6L131.26 385.6L133.52 386.38L135.11 386.01L136.77 386.39L137.25 385.59L138.93 386.25L139.53 385.31L141.74 385.3L143.16 385.11L144.1 384.18L144.73 383.62L144.84 383.46L145.56 382.07L145.35 381.41L145.96 380.45L145.89 379.29L146.64 378.77L146.15 377.35L146.83 375.78L146.84 374.78L146.46 374.09L146.25 372.79L145.76 371.96L145.43 370.94L145 369.65L144.03 368.71L143.85 367.26L143.61 366.68L143.06 365.11L143.07 364.1L142.93 363.52L143.2 362.66L143.94 361.4L144.42 360.42L144.94 359.96L145.26 358.18L145.8 357.26L146.68 355.73L146.92 355.05L146.98 353.21L146.55 351.48L146.79 349.51L147.09 346.87L146.86 345.79L146.03 343.7L146.38 342.08L146.22 340.79L145.87 339.23L145.4 338.38L145.02 336.1L145.21 334.4L144.76 332.46L144.9 331.28L145.46 329.36L145.18 327.33L145.39 325.12L146.01 323.96L146.38 323.13L146.3 322.41L146.05 321.49L146.72 319.93L147.07 318.79L147.46 318.02L147.11 317.13L147.43 315.52L147.95 314.32L148.29 313.43L148.39 313L148.62 311.66L148.66 310.02L148.69 309.17L149.5 308.44L149.99 307.02L150.25 304.67L151.34 302.82L151.43 301.55L152.25 300.07L153.13 298.9L154.28 297.28L155.18 296.34L155.67 295.64L156.77 293.88L157.69 293.35L159.49 292.59L160.24 291.3L161.16 290.87L163.06 289.87L164.64 289.23L166.52 288.8L167.62 288.31L169.29 287.41L170.61 286.9L171.3 287.15L172.37 286.75L174.31 286.18L174.84 286.44L176.32 286.31L177.85 285.77L178.65 285.76L179.68 286.21L181.61 285.97L182.13 286.05L184.02 285.67L185.29 285.69L186.11 285.4L187.47 285.44L188.92 286.18L190.55 286.39L191.87 285.99L192.85 286.27L194.17 286.46L195.5 286.6L195.5 421.3L73.3 421.3Z"/>
<path fill="#fff" d="M99.03 370.47h1v0.8h-1zM99.74 365.52h1v1h-1zM100.39 364.09h1v1h-1zM100.36 368.87h1.8v1h-1.8zM95.57 370.2h1.8v1.4h-1.8zM96.13 366.59h0.8v0.8h-0.8zM95.4 367.88h1.8v1h-1.8zM100.06 362.81h1.8v0.8h-1.8zM97.88 365.12h0.8v0.8h-0.8zM102.27 368.79h1v1h-1zM103.55 365.2h0.8v0.8h-0.8zM101.9 369.41h0.8v0.8h-0.8zM99.32 364.72h1.8v1h-1.8zM101.5 373.46h1.8v0.8h-1.8zM102.7 362.21h1.4v0.8h-1.4zM99.44 368.06h0.8v0.8h-0.8zM105.04 363.69h0.8v1h-0.8zM97.97 366.14h1v1h-1zM98.21 368.95h0.8v1h-0.8zM99.31 368.51h1v1h-1zM99.84 361.59h1.4v1h-1.4zM98.9 365.36h1.4v0.8h-1.4zM95.12 368.04h1v1.4h-1zM98.46 362.08h1v0.8h-1zM97.42 364.71h1.4v0.8h-1.4zM97.2 365.51h0.8v0.8h-0.8zM98.7 367.07h1v1.4h-1zM93.74 361.49h1.8v1h-1.8zM98 365.01h1v1h-1zM98.1 365.92h0.8v1.4h-0.8zM100.38 361.09h0.8v1h-0.8zM97.72 368.45h1.4v0.8h-1.4zM95.97 368.07h1v1h-1zM98.46 369.1h1.8v1.8h-1.8zM103.05 373.9h1v1.4h-1zM101.93 368.97h1.8v0.8h-1.8zM98.01 368.22h1v1.4h-1zM97.07 361.42h1v1.4h-1zM95.09 367.97h1.8v1h-1.8zM101.51 368.44h1v1.8h-1zM100.22 368.43h1.8v1h-1.8zM98.18 357.34h1v1.8h-1zM97.82 365.64h1v1h-1zM99.03 373.86h0.8v1h-0.8zM100.62 365.55h1.4v1h-1.4zM104.18 365.32h1v1.4h-1zM99.21 367.42h0.8v1h-0.8zM100.12 368.95h0.8v0.8h-0.8zM95.55 369.26h1v1.8h-1zM101.65 365.58h0.8v1h-0.8zM99.2 371.13h0.8v1h-0.8zM101.8 364.05h1.8v1.8h-1.8zM99.38 362.55h1v1.8h-1zM101.84 362.04h0.8v1.4h-0.8zM97.49 366.92h0.8v1.4h-0.8zM99.53 369.13h1v1h-1zM101.21 362.92h0.8v1.8h-0.8zM101.46 362.9h1v1h-1zM99.87 362.77h1.4v0.8h-1.4zM102.68 366.85h1v1h-1zM98.16 365.72h1.8v1.4h-1.8zM95.25 364.6h1.8v0.8h-1.8zM96.15 361.28h1.8v1h-1.8zM93.85 370.05h1v1h-1zM95.83 369.29h0.8v1.8h-0.8zM98.83 366.76h1v1.4h-1zM99.04 366.21h1.4v1.4h-1.4zM96.6 362.43h1.8v1h-1.8zM101.18 367.63h1.4v1.8h-1.4zM107.93 364.07h1.4v1.4h-1.4zM99.74 367.54h0.8v1h-0.8zM96 366.69h1v1h-1zM97.07 369.54h1.4v1.4h-1.4zM103.96 365.77h1v1.4h-1zM96.18 370.84h1v1.4h-1zM96.45 357.47h1v1.4h-1zM103.72 365.99h1v1h-1zM99.47 368.61h1.4v1.4h-1.4zM95.94 367.88h1v1h-1zM104.18 363.18h0.8v0.8h-0.8zM102.16 359.76h1v1.8h-1zM101.27 361.95h0.8v0.8h-0.8zM99.66 367.1h1v1h-1zM96.64 363.26h1v1h-1zM99.81 362.99h1v1h-1zM103.34 362.69h1v1.8h-1zM102.27 363.13h0.8v1.8h-0.8zM100.62 359.96h1v1.4h-1zM98.23 362.21h1.4v0.8h-1.4zM97.41 365.05h1v1h-1zM96 366.58h1.4v1.4h-1.4zM102.87 363.12h1v1.4h-1zM101.27 369.62h0.8v1h-0.8zM101.04 362.87h1.8v1.4h-1.8zM96.77 360.62h1v1.4h-1zM93.41 369.87h0.8v1h-0.8zM96.9 362.45h0.8v0.8h-0.8zM96.24 362.82h1v0.8h-1zM96.3 365.65h1v0.8h-1zM100.04 369.13h1v1h-1zM102.68 368.53h1v1.4h-1zM100.01 361.9h1v1h-1zM96.8 367.23h1.8v0.8h-1.8zM100.44 363.54h1.4v1.4h-1.4zM95.49 373.88h1.8v1h-1.8zM103.29 365.17h0.8v1h-0.8zM100.91 370.63h1v1.8h-1zM100.54 365.67h0.8v1.4h-0.8zM98.44 359.33h1.8v1.8h-1.8zM101.57 366.73h0.8v0.8h-0.8zM101.64 372.61h1.8v0.8h-1.8zM100.84 359.09h1.8v1.4h-1.8zM96.58 362.89h1.8v0.8h-1.8zM100.33 370.51h1.4v1h-1.4zM100.77 367.1h0.8v1.4h-0.8zM100.32 358.89h0.8v1h-0.8zM100.42 364.64h1v1.8h-1zM98.07 359.72h1v1.4h-1zM99.94 366.04h1.8v1.8h-1.8zM100.23 365.47h1.8v1.8h-1.8zM100.72 366.29h1.4v1.8h-1.4zM98.48 362.83h0.8v0.8h-0.8zM97.86 362.01h1v1.4h-1zM99.82 361.89h0.8v1.4h-0.8zM99.76 367.68h0.8v1.4h-0.8zM103.5 366.05h0.8v0.8h-0.8zM99.67 367.5h1.4v0.8h-1.4zM98.84 370h1.4v1h-1.4zM101.68 364.48h1v0.8h-1zM98.48 369.84h1.4v1.4h-1.4zM96.65 360.02h0.8v0.8h-0.8zM99.86 365.94h1.8v0.8h-1.8zM97.61 367.68h1.8v1h-1.8zM104.34 364.3h1.8v0.8h-1.8zM96.74 373.03h1.4v1.4h-1.4zM98.73 364.3h0.8v1h-0.8zM100.95 365.35h1.4v1.4h-1.4zM95.83 369.6h1v1.8h-1zM98.3 368.14h1.8v1.8h-1.8zM97.58 369.7h0.8v1h-0.8zM97.53 364.27h1.4v1h-1.4zM96.47 369.3h1.8v1h-1.8zM100.18 363.46h0.8v1h-0.8zM99.17 369.24h1.8v0.8h-1.8zM99.04 367.61h1.8v1h-1.8zM98.61 372.08h1.8v1.4h-1.8zM98.75 367.01h1.8v1.4h-1.8zM99.93 363.85h1v1h-1zM96.22 362.9h1.4v1h-1.4zM102.61 363.99h0.8v1.4h-0.8zM98.28 366.24h1v0.8h-1zM99.78 370.09h1v1.8h-1zM98.02 369.33h1v1h-1zM99.68 367.27h1v1h-1zM97.15 364.48h1.8v1h-1.8zM99.54 373.14h1.4v1h-1.4zM101.14 363.6h1.4v0.8h-1.4zM101.42 369.49h1v1h-1zM98.85 365.82h0.8v1h-0.8zM104.8 365.51h1.4v1.8h-1.4zM97.48 364.88h1v1.4h-1zM101.81 367.9h1.8v1.8h-1.8zM101.41 365.34h0.8v1h-0.8zM99.92 367.83h0.8v0.8h-0.8zM102.67 367.19h1.4v1.4h-1.4zM105 363.61h0.8v1.8h-0.8zM95.51 360.33h0.8v1h-0.8zM98.58 368.02h0.8v1.8h-0.8zM97.09 368.07h1v1h-1zM107.57 363.79h1v1h-1zM101.41 366.49h1v0.8h-1zM104.19 361.92h0.8v1h-0.8zM100.36 361h1.4v0.8h-1.4zM101.3 367.56h0.8v1h-0.8zM98.39 363.48h1.8v1.4h-1.8zM99.46 364.39h1v1h-1zM99.34 367.55h1.4v1.4h-1.4zM100.38 367.96h1v0.8h-1zM93.56 367.32h0.8v1h-0.8zM101.11 364.91h1.8v1h-1.8zM100.53 364.77h1.4v0.8h-1.4zM101.78 364.48h0.8v0.8h-0.8zM97.05 366.76h1v1.4h-1zM101.33 367.93h1v1h-1zM99.25 363.89h1.4v1.8h-1.4zM101.63 363.7h1v1h-1zM97.63 367.08h0.8v1h-0.8zM97.36 364.74h1v1h-1zM97.04 366.06h1.4v0.8h-1.4zM101.25 369.05h1v1.8h-1zM97.2 366.27h1v1h-1zM102.22 365.28h1v1h-1zM100.49 365.24h1v1.4h-1zM100.14 365.23h1v1h-1zM99.88 365.82h1.8v1h-1.8zM96.49 365.67h1.8v1h-1.8zM100.53 369.05h1.4v1h-1.4zM99.11 367.89h1v1.8h-1zM99.95 360.9h1v1.8h-1zM100.41 366.55h1.8v1.4h-1.8zM99.52 363.92h1v1.8h-1zM97.57 361.96h1v1.8h-1zM99.26 366.32h1.8v1.4h-1.8zM102.66 359.91h1.8v1h-1.8zM96.75 371.19h1.4v0.8h-1.4zM105.3 366.58h1.4v1h-1.4zM100.87 364.09h1v1.8h-1zM100.67 363.23h1v1h-1zM94.64 363.03h1v1.8h-1zM105.87 362.41h0.8v0.8h-0.8zM98.14 367.78h1v1.4h-1zM94.28 362.75h1v0.8h-1zM102.42 364.84h1.8v0.8h-1.8zM96.11 365.14h0.8v1h-0.8zM101.28 365.44h1v1h-1zM101.04 367.36h0.8v0.8h-0.8zM102.84 368.72h1v1h-1zM103.03 366.38h1.8v1.4h-1.8zM95.24 365.19h0.8v1h-0.8zM102.33 362.18h0.8v1h-0.8zM101.65 368.51h1.8v1h-1.8zM100.46 366.94h1v1.8h-1zM94.9 362.43h1v1.8h-1zM96.76 366.66h0.8v1.4h-0.8zM98.14 361.85h1.8v1.8h-1.8zM106.38 367.82h0.8v1h-0.8zM98.34 367.92h1v1.4h-1zM101.32 362.46h1v1.4h-1zM99.92 365.03h1.8v1h-1.8zM105.48 363.95h1v1.4h-1z"/>
<path fill="#fff" d="M128.79 365.28h0.8v1.8h-0.8zM129.92 368.32h1v1.8h-1zM128.06 363.7h1.4v1.4h-1.4zM130.06 358.28h0.8v0.8h-0.8zM132.78 366.68h1v1.8h-1zM128.5 369.66h0.8v1.8h-0.8zM130.11 366.66h0.8v1.4h-0.8zM129.06 366.6h0.8v1h-0.8zM128.06 367.28h0.8v1.8h-0.8zM134.88 363.87h1v0.8h-1zM125.74 366.53h1v1.4h-1zM130.02 366.89h1v1.4h-1zM127.09 364.5h0.8v1.8h-0.8zM128.31 369.13h1.8v1h-1.8zM127.94 363.96h1v1.4h-1zM130.79 363.99h1.4v1.4h-1.4zM129.28 364.97h1v1h-1zM130.27 369.43h1.8v1.4h-1.8zM131.51 365.92h1v1h-1zM126.06 364.4h1v1h-1zM127.69 370.98h1v1.8h-1zM133.99 368.34h1.4v0.8h-1.4zM123.91 365.05h1v0.8h-1zM120.94 364.44h1v1.4h-1zM127.69 368.25h1v1.8h-1zM127.33 364.05h1.8v0.8h-1.8zM128.69 360.44h1.4v1h-1.4zM129.92 360.8h1v1.4h-1zM129.17 365.48h1.8v1.8h-1.8zM131.01 367.87h1.8v1h-1.8zM124.89 368.46h1.8v1.8h-1.8zM133.04 369.72h1.4v1h-1.4zM128.62 363.07h1.4v1.8h-1.4zM126.5 364.63h1v0.8h-1zM130.21 359.64h1.4v1.4h-1.4zM127.38 366.4h1v1h-1zM126.59 366.92h1v0.8h-1zM130.05 363.12h1.8v1h-1.8zM130.76 365.15h1.4v0.8h-1.4zM131.05 366.09h1.4v1h-1.4zM133.08 363.05h1.8v1.8h-1.8zM132.26 365.66h1.8v1.4h-1.8zM127.05 367.63h1.8v1h-1.8zM128.63 365.83h0.8v1.8h-0.8zM129.36 368.96h1.8v1.4h-1.8zM125.31 359.79h1v1h-1zM132.04 364.88h1.4v1.8h-1.4zM131.9 363.18h1.8v0.8h-1.8zM130.13 368.16h0.8v1h-0.8zM127.7 365.58h1v1h-1zM132.52 356.9h1.4v1h-1.4zM124.09 364.81h1v1.8h-1zM131.18 363.65h0.8v1.8h-0.8zM126.99 363.9h0.8v1.4h-0.8zM129.2 365.72h1.8v0.8h-1.8zM131.36 364.1h0.8v1.8h-0.8zM129.66 365.78h1v1.4h-1zM129.42 361.59h1.8v1.8h-1.8zM132.53 365.62h1.4v1.8h-1.4zM130.14 366.99h1.8v0.8h-1.8zM130.06 365.93h1.8v1.4h-1.8zM130.65 361.75h0.8v0.8h-0.8zM127.58 361.84h1v1h-1zM128 367.25h1v0.8h-1zM133.16 359.69h0.8v1h-0.8zM130.35 369.88h0.8v0.8h-0.8zM129.51 368.86h0.8v1.4h-0.8zM130.88 366.49h1v0.8h-1zM130.94 369.28h1v1h-1zM134.42 365.95h1.4v1h-1.4zM127.21 366.9h1.4v0.8h-1.4zM129.12 368.88h1.8v1h-1.8zM126.67 367.37h1.4v0.8h-1.4zM129.54 363.4h1v1h-1zM127.91 367.3h1v1.4h-1zM127.76 365.1h1.8v1.4h-1.8zM126.99 369.68h0.8v1.4h-0.8zM130.15 363.05h1v1.4h-1zM129.8 368.14h1v1.4h-1zM132.89 366.73h1v1h-1zM129.07 367.39h1v1h-1zM124.44 364.13h1.8v1.4h-1.8zM124.3 366.87h1v1h-1zM127.73 367.35h1.4v1.4h-1.4zM126.55 362.64h1v1.4h-1zM127.06 365.63h1.4v1h-1.4zM137.87 361.7h1.8v1.4h-1.8zM126.8 364.1h1v1.4h-1zM127.55 364.31h0.8v1.8h-0.8zM133.43 369.1h1.4v0.8h-1.4zM127.08 362.24h1v0.8h-1zM128.12 366.57h1v1h-1zM127.28 369.96h0.8v0.8h-0.8zM126.63 364.55h1.8v1h-1.8zM130.51 370.47h0.8v1h-0.8zM127.81 371.42h1.4v1h-1.4zM125.78 370.56h1.4v1h-1.4zM130.55 364.93h1v1h-1zM129.49 365.26h1.4v1h-1.4zM131.73 365.7h0.8v1h-0.8zM128.45 368.16h1.8v1h-1.8zM128.82 364.81h0.8v1.8h-0.8zM129.94 367.51h1v1h-1zM128.44 366.32h1v1h-1zM127.22 364.79h1.4v1.8h-1.4zM128.91 369.12h1.8v1h-1.8zM130.21 365.09h1v0.8h-1zM131.53 362.7h0.8v1h-0.8zM128.69 364.9h1v1h-1zM129.42 362.8h0.8v1.4h-0.8zM128.08 362.69h1.8v1h-1.8zM128.77 367.06h1.4v1.4h-1.4zM132.75 363.62h1.4v1.8h-1.4zM132.94 367.36h1.4v1.8h-1.4zM131.67 361.14h1.4v1h-1.4zM133.05 367.05h1.8v1h-1.8zM129.74 367.4h1v1.8h-1zM128.55 373.92h1v1h-1zM128.32 366.86h1v1h-1zM131.77 369.49h1.4v1h-1.4zM128.92 365.37h1.4v1h-1.4zM131.31 364.53h1v1h-1zM130.12 364.53h1.8v1h-1.8zM126.51 370.79h1.8v1.4h-1.8zM129.11 363.76h1v1.8h-1zM134.12 364.91h1.4v1h-1.4zM130.68 367.44h1v1.4h-1zM129.26 366.79h1v1h-1zM130.37 370.4h1.4v0.8h-1.4zM130.55 368.65h1.8v1h-1.8zM128.15 369.66h0.8v0.8h-0.8zM121.6 367.46h1.4v0.8h-1.4zM128.96 362.83h1.8v1h-1.8zM131.43 368.04h1.4v1.4h-1.4zM130.25 369.42h0.8v1h-0.8zM132.4 363.47h1.8v1h-1.8zM128.38 364.64h0.8v0.8h-0.8zM129.79 359.65h1v1h-1zM130.51 369.9h1v0.8h-1zM130.1 359.81h1.8v1h-1.8zM126.17 368.88h1v1h-1zM129.18 367.42h1v1h-1zM129.05 366.63h1.8v1.4h-1.8zM134.38 361.38h1.4v1.4h-1.4zM127.42 365.71h1v1.8h-1zM128.04 365.06h1v1h-1zM131.48 369.18h1.4v0.8h-1.4zM134.22 364.88h1.4v1h-1.4zM129.52 368.73h0.8v1.8h-0.8zM131.92 361.26h1.4v1h-1.4zM128.18 370.31h1.8v1.4h-1.8zM129.75 364.97h0.8v1h-0.8zM130.33 364.61h1v0.8h-1zM125.74 367.14h1v1.8h-1zM129.38 366.97h1v1.8h-1zM122.03 367.8h1v1.4h-1zM132.65 364.64h0.8v1h-0.8zM127.25 364h1.8v1.4h-1.8zM131.96 364.63h1v1h-1zM131.2 362.75h0.8v1h-0.8zM129.76 370.87h0.8v1h-0.8zM127.61 363.09h1.8v1.4h-1.8zM127.72 367.53h1.4v1.4h-1.4zM128.87 367.99h1v1.8h-1zM129 363.44h1v0.8h-1zM130.54 370.1h1.4v1h-1.4zM127.18 364.94h1.8v0.8h-1.8zM128.47 358.72h1.8v0.8h-1.8zM131.43 361.82h1.4v1h-1.4zM131.23 362.64h0.8v1.8h-0.8zM133.07 369.31h1.4v1.8h-1.4zM132.25 372.85h1.8v1.4h-1.8zM129.23 363.99h1.8v0.8h-1.8zM128.31 366.26h0.8v0.8h-0.8zM127 358.07h1.4v1h-1.4zM130.06 366.89h0.8v1.8h-0.8zM130.81 365.55h0.8v1h-0.8zM131.2 370.31h1v0.8h-1zM129.63 364.24h1v1.8h-1zM128.47 357.94h1.4v0.8h-1.4zM130.02 362.97h1v1.8h-1zM127.29 369.55h0.8v1h-0.8zM128.95 367.8h1.4v0.8h-1.4zM130.87 362.11h0.8v0.8h-0.8zM127.95 365.79h1v1h-1zM132.66 371.69h1.4v1h-1.4zM127.26 364.42h1v1.4h-1zM131.46 365.95h1v1.4h-1zM123.51 365.63h0.8v0.8h-0.8zM131.06 371.08h1.8v1.4h-1.8zM132.9 358.71h1.4v1.4h-1.4zM129.89 373.69h1.8v0.8h-1.8zM126.88 368.71h1v1h-1zM128.32 365.19h1v1h-1zM128.65 362.86h1.4v1.4h-1.4zM131.17 364.63h1v1.8h-1zM127.07 365.94h1v1.4h-1zM131.64 362.63h1v1h-1zM128.69 368.23h1.8v1h-1.8zM126.81 368.97h1.8v1h-1.8zM129.71 365.66h1.8v0.8h-1.8zM132.24 361.73h1.8v0.8h-1.8zM127.57 367.67h1v1h-1zM128.04 363.23h1v1h-1zM125.17 365.45h1v1.8h-1zM128.48 362.88h1v1h-1zM132.51 361.97h1.8v1h-1.8zM132.87 362.11h1v1h-1zM129.21 365.99h1.4v1.4h-1.4zM125.7 367.09h1v1h-1zM127.71 364.78h1v1h-1zM128.5 361.69h1v0.8h-1zM132.14 363.69h0.8v1.8h-0.8zM130.54 369.5h1.4v1h-1.4zM133.06 364.8h0.8v1.4h-0.8zM128.29 367.5h1v1.8h-1zM130.6 365.98h1v1h-1zM128.46 363.55h1.4v1.4h-1.4zM130.13 369.84h1.8v0.8h-1.8zM130.44 370.62h1v1.8h-1zM130.01 366.08h1.8v1h-1.8zM128.95 365.38h1v1.8h-1zM128.71 365.27h1v0.8h-1zM129.56 368.47h0.8v1.4h-0.8zM125.63 368.4h1v1h-1zM131.61 366.87h0.8v0.8h-0.8zM127.29 363.64h1.4v1.8h-1.4zM123.83 370.18h0.8v0.8h-0.8zM132.1 363.83h1v0.8h-1zM125.34 368.26h1v1h-1z"/>
</g>
<g clip-path="url(#c21)"><path fill="#fff" d="M193.05 384.92L194.61 385.69L196.05 385.85L198.42 385.4L200.6 385.28L202.67 385.21L204.31 385.26L206.23 385.16L208.79 385.2L210.29 385.21L213.03 384.91L214.26 385.08L216.99 384.76L217.96 385.27L220.67 385.74L222.35 386.12L224.2 385.99L226.05 385.28L228.1 385.39L230.5 385.96L232.15 386.37L234.35 385.45L236.15 386.01L238.96 385.26L239.98 385.81L242.22 385.89L244.5 385.37L246.33 385.43L248.46 384.8L250.94 384.5L252.76 384.42L254.66 384.81L256.9 384.48L258.57 384.95L260.96 385.66L262.64 385L264.23 385.18L266.43 385.29L268.17 385.99L270.66 385.58L273.04 385.56L274.58 385.52L276.9 386.29L278.24 386.11L280.86 385.51L282.31 385.62L284.93 385.13L286.7 385.46L288.45 385.3L290.92 384.77L292.92 384.84L294.81 385.33L296.15 385.3L299.04 384.69L299.98 384.54L303.02 384.51L304.95 384.78L306.76 384.86L308.14 385.65L310.05 385.41L312.96 385.94L314.62 385.98L315.9 385.2L315.9 421.3L193.5 421.3Z"/>
<path fill="#fff" d="M192.85 355.63L194.32 356.37L193.84 356.24L194.78 356.31L195.3 355.98L197.19 356.74L197.66 356.92L197.76 357.5L198.32 358.18L199.27 358.81L199.83 360L199.36 360.53L200.24 362.11L200.3 361.95L201.36 363.72L201.12 363.68L200.34 364.48L200.08 364.98L200.51 366.31L200.34 367.04L199.31 368.26L199.91 368.78L199.4 369.65L199.61 370.58L198.86 370.6L197.95 371.39L198.55 372.17L197.42 373.08L196.8 374.81L196.34 375.2L197.4 375.66L196.78 376.84L196.16 377.69L195.88 379.67L196.66 380.76L195.37 381.27L195.32 381.83L195.07 381.85L195.06 381.79L194.21 383.27L193.5 383Z"/>
<path fill="#fff" d="M315.91 354.63L316.12 354.31L314.95 355.26L313.82 355.52L313.06 355.62L312.66 356.25L311.6 356.65L311.25 356.61L310.72 357.25L310.56 358.21L309.81 359.03L309.07 359.48L308.27 361.45L308.54 361.94L308.35 363.41L307.83 363.54L308.64 364.94L308.47 366.46L308.98 367.51L307.97 367.83L309.26 369.44L308.46 369.52L308.86 370.44L309.25 372.42L309.74 372.93L309.42 373.85L311.03 375.29L310.63 376.02L311.51 377.43L310.98 378.32L311.61 379.03L311.68 379.72L312.02 380.6L311.75 381.17L312.76 381.72L312.55 383.31L313.2 383.31L313.82 384.51L314.3 384.63L315.98 384.34L315.9 385Z"/>
<path fill="#fff" d="M195.17 368.46h1.8v1h-1.8zM200.51 361.8h1.4v1h-1.4zM200.91 366.82h1.4v1.4h-1.4zM196.04 358.85h1v1h-1zM196.22 368.64h1.8v1h-1.8zM201.48 363.85h1.8v1h-1.8zM199.12 366.1h0.8v0.8h-0.8zM198.07 360.9h1.8v1.4h-1.8zM194.13 365.19h0.8v0.8h-0.8zM196.33 362.42h1.4v1.4h-1.4zM196.25 367.42h0.8v1.4h-0.8zM197.22 366.36h0.8v1h-0.8zM197.89 360.75h0.8v1h-0.8zM195.09 362.61h1.4v0.8h-1.4zM200.95 369.37h1.8v0.8h-1.8zM198.62 366.08h1v1.8h-1zM194.78 367.22h1v1h-1zM197.4 365.15h1.4v1.8h-1.4zM199.17 368.31h0.8v1h-0.8zM197.5 367.47h0.8v1h-0.8zM199.44 364.76h1v0.8h-1zM197.47 367.97h1v1.8h-1zM195.04 370.37h0.8v1h-0.8zM196.79 372.94h1.4v1.8h-1.4zM197.95 367.82h0.8v1h-0.8zM196.3 364.07h1.4v1.4h-1.4zM197.75 362.76h1v1h-1zM195.28 366.78h0.8v1h-0.8zM198.67 365.08h1.8v1h-1.8zM199.24 365.65h1.4v1h-1.4zM198.38 367.74h1.8v1.8h-1.8zM193.96 367.76h1.4v1h-1.4zM198.45 364h1.4v0.8h-1.4zM201.42 367.53h0.8v1.8h-0.8zM197.7 365.01h1.8v1h-1.8zM195.31 365.07h1v1h-1zM196.97 364.47h1v1.8h-1zM198.65 366.11h0.8v0.8h-0.8zM195.73 368.15h1v1.4h-1zM197.59 362.76h0.8v1h-0.8zM201.31 367.07h1v1h-1zM200.27 359.69h1.8v1h-1.8zM197.49 368.02h1.8v1h-1.8zM199.87 371.14h1v1.4h-1zM199.58 364.4h1v1h-1zM198.38 370.2h0.8v1h-0.8zM195.17 366.5h1.4v1h-1.4zM197.62 363.13h1v0.8h-1zM197.32 362.59h1.8v1.8h-1.8zM199.87 367.16h0.8v1.4h-0.8zM201.05 359.06h1v1.4h-1zM197.71 368.51h1.8v1.8h-1.8zM198.05 362.19h1.4v1h-1.4zM198.34 357.9h1v1.8h-1zM198.41 364.51h1.8v0.8h-1.8zM199.62 364.21h1v1h-1zM199.54 366.17h1.4v1.4h-1.4zM198.05 371.92h1v0.8h-1zM198.36 361.56h0.8v1.8h-0.8zM195.13 366.94h0.8v1h-0.8z"/>
<path fill="#fff" d="M309.35 363.54h0.8v0.8h-0.8zM310.19 366.79h1v1.4h-1zM309.52 364.58h1v1h-1zM309.32 373.27h0.8v1h-0.8zM313.59 367.25h1.4v1h-1.4zM311.47 368.97h1v0.8h-1zM311.82 370.58h1.8v0.8h-1.8zM310.39 370.69h1.8v1.8h-1.8zM312.34 368.11h1v1h-1zM310 369.11h1v1h-1zM310.67 360.27h1v0.8h-1zM315.29 368.25h1.4v1.8h-1.4zM311.72 375.8h0.8v1h-0.8zM311.8 370.54h0.8v1.4h-0.8zM309.3 371.13h1v1.8h-1zM311.58 365.53h1.8v1h-1.8zM311.24 374.36h1.8v0.8h-1.8zM311.3 365.07h1v0.8h-1zM313.41 368.95h1v1h-1zM309.2 375.4h1.4v1.8h-1.4zM311.23 366.61h1.4v1.4h-1.4zM314.11 368.95h1v1.8h-1zM310.55 364.16h1v1h-1zM312.17 378.99h1v0.8h-1zM314.19 366.83h1.4v0.8h-1.4zM307.87 367.16h0.8v1.8h-0.8zM310.21 364.23h0.8v1h-0.8zM311.18 364.64h1v1.8h-1zM313.45 379.17h1.4v1h-1.4zM310.84 375.45h1v0.8h-1zM310.89 356.61h1.8v1h-1.8zM307.91 371.06h1.8v1h-1.8zM310.97 359.62h0.8v0.8h-0.8zM314.11 365.09h1v1h-1zM311.15 374.31h1.8v1h-1.8zM312.69 361.99h0.8v1.4h-0.8zM310.07 362.28h1v1.4h-1zM310.36 368.3h1v1.8h-1zM312.56 363.71h1v0.8h-1zM310.24 374.11h0.8v1.4h-0.8zM308.86 370.67h1.4v1h-1.4zM310.36 370.28h1v1.4h-1zM312.4 360.67h1v1h-1zM312.22 369.3h1.4v1.4h-1.4zM309.27 358.54h0.8v1h-0.8zM310.79 365.54h1v1.4h-1zM310.39 380.71h1v1h-1zM311.61 378.4h1.8v1.4h-1.8zM310.43 371.49h1.8v1.8h-1.8zM312.26 376.62h1v1.4h-1zM310.95 366.98h1v0.8h-1zM312.86 364.95h1v1h-1zM308.68 352.79h1.8v1.4h-1.8zM312.99 373.9h1v1.4h-1zM313.24 370.53h1.4v1h-1.4zM312.65 365.64h1.4v1.8h-1.4zM311.23 365.2h1.4v1.4h-1.4zM307.78 378.36h0.8v0.8h-0.8zM309.16 364.88h1.8v1h-1.8zM310.6 357.92h0.8v1h-0.8zM310.79 367.07h1v1h-1zM312.54 378.37h1.8v0.8h-1.8zM312.11 366.95h1.8v1h-1.8zM310.07 364.07h1.8v0.8h-1.8zM306.63 374.27h0.8v1.4h-0.8zM306.13 367.66h1v1h-1zM309.47 376.3h1.4v0.8h-1.4zM311.45 362.11h1v1h-1zM307.33 365.87h1v1h-1zM310.92 363.64h1v0.8h-1z"/>
<path fill="#fff" d="M217.21 360.97h1v1h-1zM222.16 371.05h1.4v1h-1.4zM218.74 360.42h1.4v0.8h-1.4zM221.91 362.5h1v1.4h-1zM223.66 361.84h0.8v1h-0.8zM226.02 363.18h1.8v1.4h-1.8zM220.07 361.18h1v0.8h-1zM225.33 368.98h1.4v1.8h-1.4zM224.39 362.56h0.8v1h-0.8zM219.81 367.9h1.4v1.8h-1.4zM224.73 359.75h0.8v1h-0.8zM222.53 365.14h1.8v1.8h-1.8zM221.74 368.7h1v1h-1zM228.07 364.26h1.8v0.8h-1.8zM222.99 360.63h1.4v0.8h-1.4zM224.26 364.26h1v0.8h-1zM223.29 362.13h1v1.4h-1zM219.37 368.28h1v1h-1zM222.57 363.43h1.8v1.4h-1.8zM220.29 359.54h1v1h-1zM222.41 365.91h1.4v0.8h-1.4zM218.01 364.92h1v1.8h-1zM221.32 365.83h1v1h-1zM225.07 368.52h1v1.8h-1zM224.34 366.67h0.8v1.4h-0.8zM223.86 363.94h1.4v1.8h-1.4zM226.04 362.22h1.8v1.8h-1.8zM223.8 362.93h1v1h-1zM222.04 367.55h1.8v0.8h-1.8zM220.43 368.47h0.8v0.8h-0.8zM224.07 362.82h0.8v1.4h-0.8zM221.96 363.85h1v1.8h-1zM225.43 366.14h1.8v1.8h-1.8zM223.15 364.23h1.4v0.8h-1.4zM220.82 365.25h1v1h-1zM221.12 364.6h1.8v1h-1.8zM221.56 372.68h1.8v1.8h-1.8zM222.49 363h1v0.8h-1zM223.64 362.87h1v0.8h-1zM224.82 364.35h0.8v1.8h-0.8zM224.79 366.87h1.8v1.4h-1.8zM223.65 370.77h0.8v1h-0.8zM225.07 364.38h1v0.8h-1zM220.84 362.05h1.4v1.4h-1.4zM227.96 363.85h1.8v1.4h-1.8zM224.16 368.74h0.8v1.4h-0.8zM225.04 369.22h0.8v1.8h-0.8zM227.21 365.52h1v1h-1zM224.17 369.64h1v0.8h-1zM226.41 362.76h0.8v0.8h-0.8zM221.32 367.4h1.8v1h-1.8zM219.62 363.55h1.8v1h-1.8zM225.03 364.87h0.8v1h-0.8zM221.96 362.17h0.8v1.4h-0.8zM223.23 362.37h1v1h-1zM223.38 361.77h0.8v1h-0.8zM223.69 361.83h1v0.8h-1zM221.03 364.61h1.4v1h-1.4zM220.68 368.37h1v1h-1zM229.51 362.26h1.4v1.4h-1.4zM225.73 370.23h1.4v1h-1.4zM223.68 366.08h1.8v1.8h-1.8zM222.65 365.27h0.8v1.4h-0.8zM223.22 363.08h1.8v1.8h-1.8zM227.14 362.05h1v1.8h-1zM220.31 363.82h1v0.8h-1zM223.12 371.3h1.4v0.8h-1.4zM227.08 368.43h1v1.4h-1zM219.71 366.04h1.4v0.8h-1.4zM219.3 363.03h1.4v1h-1.4zM219.87 367.54h1v1.4h-1zM221.89 361.94h1v0.8h-1zM225.74 362.88h0.8v1h-0.8zM224.52 359.21h0.8v1.4h-0.8zM219.12 363.07h1v0.8h-1zM223.15 371.33h1v0.8h-1zM223.67 365.22h1v1h-1zM223.02 364.14h1.8v1.8h-1.8zM224.61 363.9h1v1.4h-1zM227.08 365.56h0.8v0.8h-0.8zM224.65 369.85h1v1.8h-1zM221.72 364.9h1.4v0.8h-1.4zM223.45 365.31h0.8v1.8h-0.8zM219.71 363.49h1.8v0.8h-1.8zM221.89 360.89h1.8v1h-1.8zM219.31 366.15h1.8v1h-1.8zM227.55 365.82h1.4v1h-1.4zM225.51 367.92h1v1.4h-1zM226.32 364.58h0.8v1.8h-0.8zM219.17 364.46h0.8v1h-0.8zM225.75 360.44h0.8v0.8h-0.8zM221.47 366.82h1v1h-1zM219.63 365.14h1v1h-1zM223.89 365.05h0.8v1.8h-0.8zM223.45 367.79h1.4v1.8h-1.4z"/>
<path fill="#fff" d="M253.45 364.49h0.8v0.8h-0.8zM256.62 361.78h0.8v1h-0.8zM256.17 363.07h0.8v1h-0.8zM253.45 363.83h1v1h-1zM254.77 367.5h1v0.8h-1zM254.36 366.34h1.4v1h-1.4zM257.98 364.85h1.4v1.8h-1.4zM258.47 358.16h1v1h-1zM254.92 364.9h1.8v0.8h-1.8zM253.31 368.04h1v1h-1zM258.58 365.35h1v1h-1zM255.55 362.22h0.8v0.8h-0.8zM255.67 363.29h1v1h-1zM255.83 365.82h1.4v1h-1.4zM254.97 366.14h1.8v1h-1.8zM256.88 364.29h1.8v0.8h-1.8zM253.88 363.84h0.8v1h-0.8zM253.8 365.85h1v1.8h-1zM251.7 366.8h1v1.4h-1zM254.82 367.3h0.8v0.8h-0.8zM254.26 363.64h1v1.8h-1zM257.88 364.47h1.8v1h-1.8zM253.15 362.38h1.4v1h-1.4zM257.94 367.28h1.8v0.8h-1.8zM255.58 365.76h1.8v0.8h-1.8zM254.25 361.6h1.8v1h-1.8zM256.91 363.94h0.8v1h-0.8zM254.06 367.82h1v1.4h-1zM259.3 364.94h1.4v1h-1.4zM254.14 366.89h1.4v1h-1.4zM255.98 366.4h1v1h-1zM254.75 365.66h1v0.8h-1zM255.87 364.44h1.8v1h-1.8zM254.06 363.91h1v1.4h-1zM259.94 369.54h1.4v1h-1.4zM253.15 362.54h1v0.8h-1zM255.15 365.48h1v1h-1zM252.49 368.45h1v1h-1zM255.2 363.38h1v1h-1zM253.74 365.12h1v1h-1zM254.33 367.78h0.8v1h-0.8zM252.07 360.94h1.4v1h-1.4zM255.07 370.79h1v0.8h-1zM257.89 366.5h1v1h-1zM254.31 368.18h1.4v0.8h-1.4zM256.96 367.41h1.4v0.8h-1.4zM252.71 366.99h1v1h-1zM254.1 365.71h1v0.8h-1zM254.56 368.1h1v1h-1zM254 364.96h1v1.4h-1zM254.7 361.96h1.4v0.8h-1.4zM256.98 366.32h0.8v1h-0.8zM252.19 364.88h1v1h-1zM256.81 367.06h1.4v1.4h-1.4zM255.06 363.95h1.4v1h-1.4zM256.26 366.52h1v0.8h-1zM259.43 370.42h1.4v1h-1.4zM254.94 365.65h1.8v0.8h-1.8zM252.72 362.19h0.8v1.8h-0.8zM252.54 361.71h1.8v1h-1.8zM254.08 364.12h1v0.8h-1zM256.12 363.36h1v1h-1zM257.22 365.58h0.8v1.4h-0.8zM254.92 365.99h1.4v1h-1.4zM255.8 363.42h1v1.8h-1z"/>
<path fill="#fff" d="M286.99 366.02h0.8v1h-0.8zM292.77 365.56h1v0.8h-1zM283.74 365.5h1.4v1h-1.4zM285.44 363.6h1.4v1h-1.4zM285.09 369.72h1v1h-1zM290.85 364.24h0.8v1.4h-0.8zM287.84 367.69h0.8v1.8h-0.8zM285.66 366.23h0.8v1h-0.8zM285.19 363.6h1.4v1.4h-1.4zM283.05 363.27h1v1h-1zM286.78 366.47h1.4v1h-1.4zM294.31 359.42h1v1.8h-1zM284.89 369.37h1v1h-1zM285.8 365.55h1.4v1.4h-1.4zM286.64 368.77h1v1h-1zM288.61 364.39h1.4v0.8h-1.4zM291.96 367.05h0.8v0.8h-0.8zM287.49 364.37h1v1h-1zM284.01 366.71h1v1.8h-1zM284.34 363.43h1.4v1.8h-1.4zM282.85 362.31h1.8v1.8h-1.8zM287.05 366.08h1v1.8h-1zM283.05 368.88h1v1h-1zM281.38 368.81h1v0.8h-1zM286.44 364.05h1.4v1h-1.4zM284.59 360.41h0.8v1.4h-0.8zM282.98 365.67h1v1.4h-1zM290.94 363.69h1v1.4h-1zM292.34 369.09h1.8v1.4h-1.8zM285.61 365.91h1v1h-1zM286.48 362.27h1.4v1h-1.4zM287.93 366.48h1v1h-1zM288.96 367.26h1.4v1.8h-1.4zM285.82 365.56h1.8v1.4h-1.8zM289.77 363.65h1v1h-1zM285.94 362.02h1v1.4h-1zM285.39 360.92h1v1.4h-1zM282.32 370.43h1v1.8h-1zM284.47 361.8h1.8v1h-1.8zM283.38 369.14h1v1h-1zM288.17 361.46h1.8v0.8h-1.8zM286.84 365.48h1.8v1.4h-1.8zM286.4 362.71h0.8v0.8h-0.8zM287.25 363.95h1v0.8h-1zM287.42 366.59h1v0.8h-1zM287.73 365.18h0.8v1h-0.8zM288.04 367.11h1.8v1h-1.8zM285.59 367.73h1.4v1h-1.4zM283.85 370.76h1v1h-1zM286.61 366.04h0.8v1h-0.8zM290.1 369.3h1v1h-1zM285.32 364.98h1.8v1.8h-1.8zM288.12 360.45h1.4v1.4h-1.4zM286.57 365.51h1v0.8h-1zM287.06 363.78h1.8v1h-1.8zM288.11 369.24h1.4v1h-1.4zM283.35 361.23h1.4v1.8h-1.4zM286.33 365.19h1.8v1h-1.8zM289.46 367.58h1v1h-1zM283.66 364.97h1v0.8h-1zM290.64 365.9h1v1.8h-1zM285.79 369.01h1.4v1.8h-1.4zM287.26 366.73h1v1h-1zM287.31 365.76h1.4v1h-1.4zM288.55 360.93h1v1.4h-1zM285.1 369.25h0.8v1.8h-0.8zM285.87 367.22h1v1.8h-1zM286.83 366.79h1v1.4h-1zM288.86 365.48h1.8v1.8h-1.8zM289.3 361.78h1.4v1.8h-1.4zM286.33 366.06h0.8v1.8h-0.8zM284.52 367.17h1v1.8h-1zM287.08 367.5h1.4v1.4h-1.4zM287.01 362.23h1.4v1h-1.4zM285.84 364.07h1.4v0.8h-1.4zM285.38 363.22h0.8v1.8h-0.8zM288.63 367.35h1.8v0.8h-1.8zM286.41 366.04h1v1.4h-1zM285.31 364.8h0.8v0.8h-0.8zM292.07 366.27h1v1.8h-1zM287.45 365.69h1v1.8h-1zM284.67 363.2h1v1h-1zM283.26 368.43h1v1h-1zM288.03 366.51h1.8v0.8h-1.8zM291.72 368.78h1.4v1.4h-1.4zM286.94 366.83h1v1.4h-1zM285.39 366.21h1v1h-1zM289.21 363.29h1.8v1h-1.8zM286.89 364.35h1.8v1.4h-1.8zM288.21 360.89h1.8v1h-1.8zM285.13 369.32h1v1h-1zM286.24 364.17h0.8v1h-0.8zM286.38 364.81h1v1.8h-1zM287.37 365.2h1v1h-1zM289.38 360.63h1v1h-1z"/>
</g>
<g clip-path="url(#c22)"><path fill="#fff" d="M313.72 385.61L315.3 385.42L317.3 385.28L319.06 385.83L321.14 385.53L323.27 385.63L325.03 384.83L327.25 384.85L328.59 384.93L330.9 384.95L332.84 384.98L334.67 385.42L337.05 384.94L339.26 385.18L340.74 385.85L343.22 386.14L345.24 385.86L347.27 386.15L349.21 386.33L351.3 385.85L352.87 386.03L355.2 385.91L356.77 385.19L358.56 385.8L361.26 384.9L362.78 385.32L364.9 384.74L367.22 385.23L368.73 385.09L370.79 385.28L373.25 385.32L374.74 385.22L377.2 385.71L378.77 386L380.99 386.19L383.26 385.44L384.85 385.45L387.31 385.65L388.64 385.9L391.28 385.94L393.23 385.83L394.96 385.53L396.96 385L398.57 385.75L400.62 385.01L402.91 385.35L404.54 385.37L406.99 384.72L408.78 385.57L411.11 384.96L413.02 385L414.83 385.36L417.34 385.66L419.33 385.75L421.13 385.4L423.23 385.99L424.79 386.2L427.26 385.56L428.47 385.91L431.24 385.32L432.96 385.14L434.05 385.58L436 385.6L436 421.3L313.9 421.3Z"/>
<path fill="#fff" d="M315.39 360.33h1v1.8h-1zM314.32 366.68h1v1h-1zM314.91 370.41h0.8v1.4h-0.8zM315.1 371.76h1.8v1h-1.8zM314.64 369.47h1.4v0.8h-1.4zM314.64 366.29h1v1h-1zM314.6 362.32h1v1h-1zM314.29 365.68h1.8v1h-1.8zM314.88 364.1h1.8v0.8h-1.8zM314.6 358.11h1v1h-1zM314.87 361.49h1.8v0.8h-1.8zM314.57 366.02h0.8v0.8h-0.8zM315.11 362.16h1.4v1h-1.4zM314.47 368.78h1v1.8h-1zM314.16 373.31h1v1h-1zM314.74 375.99h1v1.8h-1zM314.2 367.69h1v1.4h-1zM314.88 367.67h1v0.8h-1zM314.28 365.91h1.4v1.4h-1.4zM314.68 359.35h1.4v1h-1.4zM314.27 366.59h1.8v1.8h-1.8zM314.79 368.4h0.8v1h-0.8zM314.21 353.55h1.4v0.8h-1.4zM314.28 370.18h1v1.4h-1zM314.26 361.57h1.8v1.8h-1.8z"/>
</g>
<defs><linearGradient id="cb" x1="0" y1="0" x2="0" y2="1"><stop offset="0" stop-color="rgb(255,20,20)"/><stop offset="0.06" stop-color="rgb(255,60,20)"/><stop offset="0.12" stop-color="rgb(255,100,20)"/><stop offset="0.19" stop-color="rgb(255,145,20)"/><stop offset="0.25" stop-color="rgb(255,185,20)"/><stop offset="0.31" stop-color="rgb(255,215,20)"/><stop offset="0.38" stop-color="rgb(250,240,20)"/><stop offset="0.44" stop-color="rgb(190,245,25)"/><stop offset="0.5" stop-color="rgb(120,240,40)"/><stop offset="0.56" stop-color="rgb(45,232,75)"/><stop offset="0.62" stop-color="rgb(20,215,105)"/><stop offset="0.69" stop-color="rgb(10,195,135)"/><stop offset="0.75" stop-color="rgb(0,160,168)"/><stop offset="0.81" stop-color="rgb(0,120,208)"/><stop offset="0.88" stop-color="rgb(0,75,238)"/><stop offset="0.94" stop-color="rgb(0,35,252)"/><stop offset="1" stop-color="rgb(0,0,255)"/></linearGradient></defs>
<rect x="445.7" y="31.4" width="6.3" height="147.9" fill="url(#cb)"/>
<rect x="445.7" y="272.4" width="6.3" height="147.9" fill="url(#cb)"/>
<g fill="none" stroke="#000" stroke-opacity="0.5" stroke-width="0.75"><path d="M74.3 31.4H194.5V179.3H74.3Z"/><path d="M194.5 31.4H314.9V179.3H194.5Z"/><path d="M314.9 31.4H435V179.3H314.9Z"/><path d="M74.3 272.4H194.5V420.3H74.3Z"/><path d="M194.5 272.4H314.9V420.3H194.5Z"/><path d="M314.9 272.4H435V420.3H314.9Z"/><path d="M74.3 31.4V179.3H194.5"/><path d="M194.5 31.4V179.3H314.9"/><path d="M314.9 31.4V179.3H435"/><path d="M74.3 272.4V420.3H194.5"/><path d="M194.5 272.4V420.3H314.9"/><path d="M314.9 272.4V420.3H435"/></g>
<path d="M66 51.12H74.3M66 100.42H74.3M66 149.72H74.3M437.8 179.3H459.3M437.8 142.33H459.3M437.8 105.35H459.3M437.8 68.38H459.3M437.8 31.4H459.3M66 292.12H74.3M66 341.42H74.3M66 390.72H74.3M437.8 420.3H459.3M437.8 383.32H459.3M437.8 346.35H459.3M437.8 309.37H459.3M437.8 272.4H459.3M93.7 179.3V187.6M143 179.3V187.6M192.4 179.3V187.6M213.7 179.3V187.6M263 179.3V187.6M312.6 179.3V187.6M314.6 179.3V187.6M364 179.3V187.6M413.3 179.3V187.6M74.6 420.3V428.6M123.8 420.3V428.6M173.1 420.3V428.6M213.7 420.3V428.6M262.9 420.3V428.6M312.5 420.3V428.6M332.3 420.3V428.6M381.8 420.3V428.6M431.1 420.3V428.6" fill="none" stroke="#222" stroke-width="0.7"/>
<g fill="#000"><circle cx="84.4" cy="173" r="1.55"/><circle cx="104.5" cy="173" r="1.55"/><circle cx="124.5" cy="173" r="1.55"/><circle cx="144.6" cy="173" r="1.55"/><circle cx="164.7" cy="173" r="1.55"/><circle cx="184.7" cy="173" r="1.55"/><circle cx="204.6" cy="173" r="1.55"/><circle cx="224.8" cy="173" r="1.55"/><circle cx="244.8" cy="173" r="1.55"/><circle cx="264.7" cy="173" r="1.55"/><circle cx="284.6" cy="173" r="1.55"/><circle cx="304.5" cy="173" r="1.55"/><circle cx="315.2" cy="173" r="1.55"/><circle cx="334.8" cy="173" r="1.55"/><circle cx="354.5" cy="173" r="1.55"/><circle cx="374.5" cy="173" r="1.55"/><circle cx="394.8" cy="173" r="1.55"/><circle cx="415.3" cy="173" r="1.55"/><circle cx="224.8" cy="152.4" r="1.55"/><circle cx="264.8" cy="152.4" r="1.55"/><circle cx="304.5" cy="152.4" r="1.55"/><circle cx="374.5" cy="113.2" r="1.55"/><circle cx="374.5" cy="133.3" r="1.55"/><circle cx="374.5" cy="153.3" r="1.55"/><circle cx="394.8" cy="113.2" r="1.55"/><circle cx="394.8" cy="133.3" r="1.55"/><circle cx="394.8" cy="153.3" r="1.55"/><circle cx="415.3" cy="113.2" r="1.55"/><circle cx="415.3" cy="133.3" r="1.55"/><circle cx="415.3" cy="153.3" r="1.55"/><circle cx="74.9" cy="414" r="1.55"/><circle cx="94.8" cy="414" r="1.55"/><circle cx="114.8" cy="414" r="1.55"/><circle cx="134.6" cy="414" r="1.55"/><circle cx="154.6" cy="414" r="1.55"/><circle cx="174.3" cy="414" r="1.55"/><circle cx="194.6" cy="414" r="1.55"/><circle cx="205" cy="414" r="1.55"/><circle cx="225" cy="414" r="1.55"/><circle cx="244.9" cy="414" r="1.55"/><circle cx="264.8" cy="414" r="1.55"/><circle cx="284.7" cy="414" r="1.55"/><circle cx="304.7" cy="414" r="1.55"/><circle cx="324.8" cy="414" r="1.55"/><circle cx="344.7" cy="414" r="1.55"/><circle cx="364.6" cy="414" r="1.55"/><circle cx="384.8" cy="414" r="1.55"/><circle cx="404.7" cy="414" r="1.55"/><circle cx="424.7" cy="414" r="1.55"/><circle cx="174.2" cy="314.3" r="1.55"/><circle cx="174.2" cy="335" r="1.55"/><circle cx="174.2" cy="354.8" r="1.55"/><circle cx="174.2" cy="374.8" r="1.55"/><circle cx="174.2" cy="394.5" r="1.55"/><circle cx="194.5" cy="335" r="1.55"/><circle cx="194.5" cy="354.8" r="1.55"/><circle cx="194.5" cy="374.8" r="1.55"/><circle cx="194.5" cy="394.5" r="1.55"/></g>
<g font-family="'Liberation Serif', serif" font-size="24.4" fill="#2b2b2b">
<text><tspan x="111.7" y="16.7" textLength="43.27" lengthAdjust="spacingAndGlyphs">Flat</tspan></text>
<text><tspan x="215.83" y="16.7" textLength="55.14" lengthAdjust="spacingAndGlyphs">Pitch</tspan> <tspan x="278.21" y="16.7" textLength="13.91" lengthAdjust="spacingAndGlyphs">1</tspan></text>
<text><tspan x="336.13" y="16.7" textLength="55.14" lengthAdjust="spacingAndGlyphs">Pitch</tspan> <tspan x="399.24" y="16.7" textLength="12.81" lengthAdjust="spacingAndGlyphs">3</tspan></text>
<text><tspan x="95.53" y="257.7" textLength="54.84" lengthAdjust="spacingAndGlyphs">Pitch</tspan> <tspan x="158.71" y="257.7" textLength="12.95" lengthAdjust="spacingAndGlyphs">5</tspan></text>
<text><tspan x="209.83" y="257.7" textLength="55.04" lengthAdjust="spacingAndGlyphs">Pitch</tspan> <tspan x="273.54" y="257.7" textLength="25.07" lengthAdjust="spacingAndGlyphs">10</tspan></text>
<text><tspan x="330.04" y="257.7" textLength="54.74" lengthAdjust="spacingAndGlyphs">Pitch</tspan> <tspan x="393.52" y="257.7" textLength="23.96" lengthAdjust="spacingAndGlyphs">20</tspan></text>
<text><tspan x="31" y="56.22" textLength="25.12" lengthAdjust="spacingAndGlyphs">45</tspan></text>
<text><tspan x="30.89" y="105.52" textLength="25.12" lengthAdjust="spacingAndGlyphs">40</tspan></text>
<text><tspan x="31" y="154.82" textLength="25.12" lengthAdjust="spacingAndGlyphs">35</tspan></text>
<text><tspan x="468.27" y="184.4" textLength="12.57" lengthAdjust="spacingAndGlyphs">0</tspan></text>
<text><tspan x="468.44" y="147.43" textLength="25.12" lengthAdjust="spacingAndGlyphs">10</tspan></text>
<text><tspan x="468.07" y="110.45" textLength="25.12" lengthAdjust="spacingAndGlyphs">20</tspan></text>
<text><tspan x="467.96" y="73.47" textLength="25.12" lengthAdjust="spacingAndGlyphs">30</tspan></text>
<text><tspan x="468.69" y="36.5" textLength="25.12" lengthAdjust="spacingAndGlyphs">40</tspan></text>
<text><tspan x="31" y="297.22" textLength="25.12" lengthAdjust="spacingAndGlyphs">45</tspan></text>
<text><tspan x="30.89" y="346.52" textLength="25.12" lengthAdjust="spacingAndGlyphs">40</tspan></text>
<text><tspan x="31" y="395.82" textLength="25.12" lengthAdjust="spacingAndGlyphs">35</tspan></text>
<text><tspan x="468.27" y="425.4" textLength="12.57" lengthAdjust="spacingAndGlyphs">0</tspan></text>
<text><tspan x="468.44" y="388.42" textLength="25.12" lengthAdjust="spacingAndGlyphs">10</tspan></text>
<text><tspan x="468.07" y="351.45" textLength="25.12" lengthAdjust="spacingAndGlyphs">20</tspan></text>
<text><tspan x="467.96" y="314.47" textLength="25.12" lengthAdjust="spacingAndGlyphs">30</tspan></text>
<text><tspan x="468.69" y="277.5" textLength="25.12" lengthAdjust="spacingAndGlyphs">40</tspan></text>
<text><tspan x="86.21" y="212.2" textLength="12.57" lengthAdjust="spacingAndGlyphs">5</tspan></text>
<text><tspan x="129.72" y="212.2" textLength="25.12" lengthAdjust="spacingAndGlyphs">10</tspan></text>
<text><tspan x="206.21" y="212.2" textLength="12.57" lengthAdjust="spacingAndGlyphs">5</tspan></text>
<text><tspan x="249.72" y="212.2" textLength="25.12" lengthAdjust="spacingAndGlyphs">10</tspan></text>
<text><tspan x="307.62" y="212.2" textLength="12.57" lengthAdjust="spacingAndGlyphs">0</tspan></text>
<text><tspan x="356.51" y="212.2" textLength="12.57" lengthAdjust="spacingAndGlyphs">5</tspan></text>
<text><tspan x="400.02" y="212.2" textLength="25.12" lengthAdjust="spacingAndGlyphs">10</tspan></text>
<text><tspan x="67.32" y="453.7" textLength="12.57" lengthAdjust="spacingAndGlyphs">0</tspan></text>
<text><tspan x="116.31" y="453.7" textLength="12.57" lengthAdjust="spacingAndGlyphs">5</tspan></text>
<text><tspan x="159.82" y="453.7" textLength="25.12" lengthAdjust="spacingAndGlyphs">10</tspan></text>
<text><tspan x="206.21" y="453.7" textLength="12.57" lengthAdjust="spacingAndGlyphs">5</tspan></text>
<text><tspan x="249.62" y="453.7" textLength="25.12" lengthAdjust="spacingAndGlyphs">10</tspan></text>
<text><tspan x="319.07" y="453.7" textLength="25.12" lengthAdjust="spacingAndGlyphs">15</tspan></text>
<text><tspan x="368.53" y="453.7" textLength="25.12" lengthAdjust="spacingAndGlyphs">20</tspan></text>
<text><tspan x="417.88" y="453.7" textLength="25.12" lengthAdjust="spacingAndGlyphs">25</tspan></text>
<text><tspan x="160.82" y="482.5" textLength="123.18" lengthAdjust="spacingAndGlyphs">Coordinate,</tspan> <tspan x="293.46" y="482.5" textLength="12.81" lengthAdjust="spacingAndGlyphs" font-style="italic">x</tspan> <tspan x="315.4" y="484.7" textLength="6.77" lengthAdjust="spacingAndGlyphs" font-size="29.4">[</tspan><tspan x="322.11" y="482.5" textLength="17.01" lengthAdjust="spacingAndGlyphs">Å</tspan><tspan x="338.83" y="484.7" textLength="6.92" lengthAdjust="spacingAndGlyphs" font-size="29.4">]</tspan></text>
<text transform="translate(22.5 200) rotate(-90)"><tspan x="3.61" y="0" textLength="124.51" lengthAdjust="spacingAndGlyphs">Coordinate,</tspan> <tspan x="137.36" y="0" textLength="11.4" lengthAdjust="spacingAndGlyphs" font-style="italic">z</tspan> <tspan x="156.53" y="2.2" textLength="6.62" lengthAdjust="spacingAndGlyphs" font-size="29.4">[</tspan><tspan x="163.01" y="0" textLength="16.81" lengthAdjust="spacingAndGlyphs">Å</tspan><tspan x="180.05" y="2.2" textLength="6.77" lengthAdjust="spacingAndGlyphs" font-size="29.4">]</tspan></text>
<text transform="translate(513.1 200) rotate(-90)"><tspan x="11.27" y="0" textLength="78.72" lengthAdjust="spacingAndGlyphs">Density</tspan> <tspan x="100.47" y="2.2" textLength="6.02" lengthAdjust="spacingAndGlyphs" font-size="29.4">[</tspan><tspan x="107.39" y="0" textLength="12.32" lengthAdjust="spacingAndGlyphs">g</tspan><tspan x="119.4" y="0" textLength="11.07" lengthAdjust="spacingAndGlyphs">/</tspan><tspan x="131.87" y="0" textLength="30.96" lengthAdjust="spacingAndGlyphs">cm</tspan><tspan x="162.13" y="-9.4" textLength="10.4" lengthAdjust="spacingAndGlyphs" font-size="15">3</tspan><tspan x="172.2" y="2.2" textLength="5.42" lengthAdjust="spacingAndGlyphs" font-size="29.4">]</tspan></text>
<text transform="translate(22.5 441) rotate(-90)"><tspan x="3.61" y="0" textLength="124.51" lengthAdjust="spacingAndGlyphs">Coordinate,</tspan> <tspan x="137.36" y="0" textLength="11.4" lengthAdjust="spacingAndGlyphs" font-style="italic">z</tspan> <tspan x="156.53" y="2.2" textLength="6.62" lengthAdjust="spacingAndGlyphs" font-size="29.4">[</tspan><tspan x="163.01" y="0" textLength="16.81" lengthAdjust="spacingAndGlyphs">Å</tspan><tspan x="180.05" y="2.2" textLength="6.77" lengthAdjust="spacingAndGlyphs" font-size="29.4">]</tspan></text>
<text transform="translate(513.1 441) rotate(-90)"><tspan x="11.27" y="0" textLength="78.72" lengthAdjust="spacingAndGlyphs">Density</tspan> <tspan x="100.47" y="2.2" textLength="6.02" lengthAdjust="spacingAndGlyphs" font-size="29.4">[</tspan><tspan x="107.39" y="0" textLength="12.32" lengthAdjust="spacingAndGlyphs">g</tspan><tspan x="119.4" y="0" textLength="11.07" lengthAdjust="spacingAndGlyphs">/</tspan><tspan x="131.87" y="0" textLength="30.96" lengthAdjust="spacingAndGlyphs">cm</tspan><tspan x="162.13" y="-9.4" textLength="10.4" lengthAdjust="spacingAndGlyphs" font-size="15">3</tspan><tspan x="172.2" y="2.2" textLength="5.42" lengthAdjust="spacingAndGlyphs" font-size="29.4">]</tspan></text>
</g>
</svg>
</body></html>
